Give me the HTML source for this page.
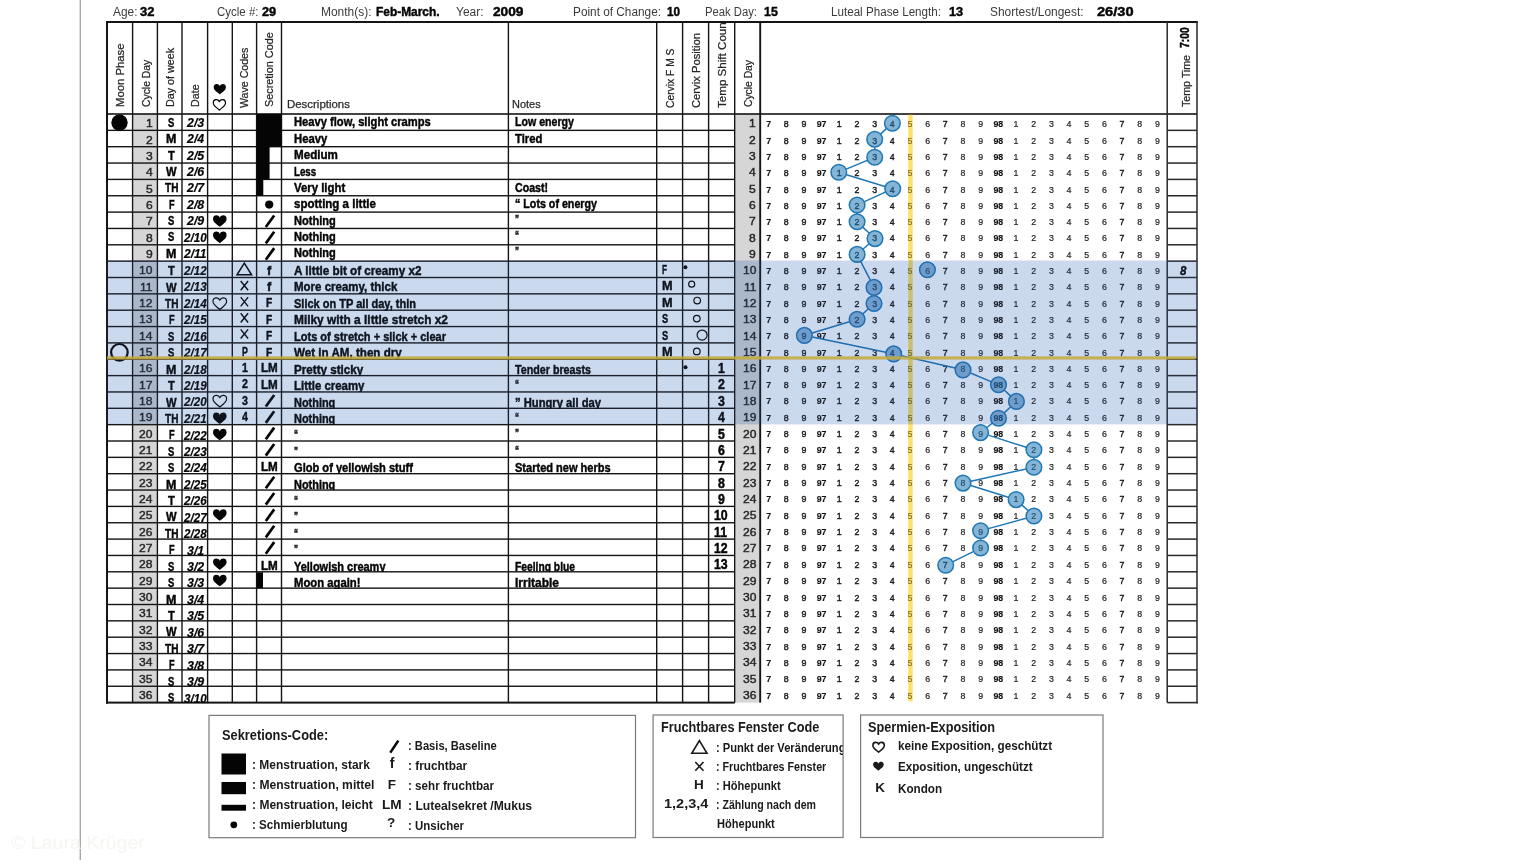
<!DOCTYPE html>
<html><head><meta charset="utf-8"><title>Cycle chart</title>
<style>
html,body{margin:0;padding:0;background:#fff;}
body{width:1536px;height:864px;overflow:hidden;position:relative;font-family:"Liberation Sans",sans-serif;}
.t{position:absolute;white-space:nowrap;transform-origin:0 0;}
.r{position:absolute;}
.lb{-webkit-text-stroke:0.25px #2b2b2b;}
.cd{-webkit-text-stroke:0.4px #262626;}
.hw{-webkit-text-stroke:0.45px #050505;}
.dt{-webkit-text-stroke:0.2px #050505;}
svg{position:absolute;left:0;top:0;overflow:visible;}
.nr{position:absolute;left:759.76px;height:8.8px;line-height:8.8px;font-size:8.8px;white-space:nowrap;color:#222;-webkit-text-stroke:0.2px #222}.nr i{display:inline-block;width:17.68px;text-align:center;font-style:normal}.nr .a{color:#1c1c1c;-webkit-text-stroke:0.4px #1c1c1c}.nr b{color:#111;-webkit-text-stroke:0.15px #111}.nr .y{color:#85731f;-webkit-text-stroke:0.2px #85731f}
</style></head><body><div id="pg" style="position:absolute;left:0;top:0;width:1536px;height:864px;will-change:transform;filter:blur(0.35px);">

<svg width="1536" height="864" viewBox="0 0 1536 864"><rect x="79.60" y="0.00" width="1.40" height="860.00" fill="#a9a9a9" />
<rect x="133.30" y="114.00" width="23.60" height="588.60" fill="#d6d6d6" />
<rect x="735.30" y="114.00" width="24.70" height="588.60" fill="#d6d6d6" />
<rect x="106.00" y="21.00" width="1091.80" height="2.00" fill="#151515" />
<rect x="106.00" y="22.00" width="2.00" height="681.60" fill="#151515" />
<rect x="106.00" y="701.60" width="628.70" height="2.00" fill="#151515" />
<rect x="1196.25" y="22.00" width="1.50" height="681.40" fill="#2a2a2a" />
<rect x="1167.20" y="701.80" width="30.60" height="1.60" fill="#2a2a2a" />
<rect x="107.00" y="113.20" width="1090.00" height="1.60" fill="#151515" />
<rect x="131.90" y="22.00" width="1.40" height="680.60" fill="#151515" />
<rect x="156.70" y="22.00" width="1.40" height="680.60" fill="#151515" />
<rect x="181.30" y="22.00" width="1.40" height="680.60" fill="#151515" />
<rect x="206.90" y="22.00" width="1.40" height="680.60" fill="#151515" />
<rect x="231.60" y="22.00" width="1.40" height="680.60" fill="#151515" />
<rect x="255.90" y="22.00" width="1.40" height="680.60" fill="#151515" />
<rect x="280.80" y="22.00" width="1.40" height="680.60" fill="#151515" />
<rect x="507.70" y="22.00" width="1.40" height="680.60" fill="#151515" />
<rect x="656.00" y="22.00" width="1.40" height="680.60" fill="#151515" />
<rect x="681.90" y="22.00" width="1.40" height="680.60" fill="#151515" />
<rect x="707.90" y="22.00" width="1.40" height="680.60" fill="#151515" />
<rect x="734.00" y="22.00" width="1.40" height="680.60" fill="#151515" />
<rect x="759.25" y="22.00" width="1.90" height="680.60" fill="#151515" />
<rect x="1166.45" y="22.00" width="1.50" height="680.60" fill="#2a2a2a" />
<rect x="107.00" y="129.65" width="627.70" height="1.40" fill="#151515" />
<rect x="1167.20" y="129.60" width="29.80" height="1.50" fill="#2a2a2a" />
<rect x="107.00" y="146.00" width="627.70" height="1.40" fill="#151515" />
<rect x="1167.20" y="145.95" width="29.80" height="1.50" fill="#2a2a2a" />
<rect x="107.00" y="162.35" width="627.70" height="1.40" fill="#151515" />
<rect x="1167.20" y="162.30" width="29.80" height="1.50" fill="#2a2a2a" />
<rect x="107.00" y="178.70" width="627.70" height="1.40" fill="#151515" />
<rect x="1167.20" y="178.65" width="29.80" height="1.50" fill="#2a2a2a" />
<rect x="107.00" y="195.05" width="627.70" height="1.40" fill="#151515" />
<rect x="1167.20" y="195.00" width="29.80" height="1.50" fill="#2a2a2a" />
<rect x="107.00" y="211.40" width="627.70" height="1.40" fill="#151515" />
<rect x="1167.20" y="211.35" width="29.80" height="1.50" fill="#2a2a2a" />
<rect x="107.00" y="227.75" width="627.70" height="1.40" fill="#151515" />
<rect x="1167.20" y="227.70" width="29.80" height="1.50" fill="#2a2a2a" />
<rect x="107.00" y="244.10" width="627.70" height="1.40" fill="#151515" />
<rect x="1167.20" y="244.05" width="29.80" height="1.50" fill="#2a2a2a" />
<rect x="107.00" y="260.45" width="627.70" height="1.40" fill="#151515" />
<rect x="1167.20" y="260.40" width="29.80" height="1.50" fill="#2a2a2a" />
<rect x="107.00" y="276.80" width="627.70" height="1.40" fill="#151515" />
<rect x="1167.20" y="276.75" width="29.80" height="1.50" fill="#2a2a2a" />
<rect x="107.00" y="293.15" width="627.70" height="1.40" fill="#151515" />
<rect x="1167.20" y="293.10" width="29.80" height="1.50" fill="#2a2a2a" />
<rect x="107.00" y="309.50" width="627.70" height="1.40" fill="#151515" />
<rect x="1167.20" y="309.45" width="29.80" height="1.50" fill="#2a2a2a" />
<rect x="107.00" y="325.85" width="627.70" height="1.40" fill="#151515" />
<rect x="1167.20" y="325.80" width="29.80" height="1.50" fill="#2a2a2a" />
<rect x="107.00" y="342.20" width="627.70" height="1.40" fill="#151515" />
<rect x="1167.20" y="342.15" width="29.80" height="1.50" fill="#2a2a2a" />
<rect x="107.00" y="358.55" width="627.70" height="1.40" fill="#151515" />
<rect x="1167.20" y="358.50" width="29.80" height="1.50" fill="#2a2a2a" />
<rect x="107.00" y="374.90" width="627.70" height="1.40" fill="#151515" />
<rect x="1167.20" y="374.85" width="29.80" height="1.50" fill="#2a2a2a" />
<rect x="107.00" y="391.25" width="627.70" height="1.40" fill="#151515" />
<rect x="1167.20" y="391.20" width="29.80" height="1.50" fill="#2a2a2a" />
<rect x="107.00" y="407.60" width="627.70" height="1.40" fill="#151515" />
<rect x="1167.20" y="407.55" width="29.80" height="1.50" fill="#2a2a2a" />
<rect x="107.00" y="423.95" width="627.70" height="1.40" fill="#151515" />
<rect x="1167.20" y="423.90" width="29.80" height="1.50" fill="#2a2a2a" />
<rect x="107.00" y="440.30" width="627.70" height="1.40" fill="#151515" />
<rect x="1167.20" y="440.25" width="29.80" height="1.50" fill="#2a2a2a" />
<rect x="107.00" y="456.65" width="627.70" height="1.40" fill="#151515" />
<rect x="1167.20" y="456.60" width="29.80" height="1.50" fill="#2a2a2a" />
<rect x="107.00" y="473.00" width="627.70" height="1.40" fill="#151515" />
<rect x="1167.20" y="472.95" width="29.80" height="1.50" fill="#2a2a2a" />
<rect x="107.00" y="489.35" width="627.70" height="1.40" fill="#151515" />
<rect x="1167.20" y="489.30" width="29.80" height="1.50" fill="#2a2a2a" />
<rect x="107.00" y="505.70" width="627.70" height="1.40" fill="#151515" />
<rect x="1167.20" y="505.65" width="29.80" height="1.50" fill="#2a2a2a" />
<rect x="107.00" y="522.05" width="627.70" height="1.40" fill="#151515" />
<rect x="1167.20" y="522.00" width="29.80" height="1.50" fill="#2a2a2a" />
<rect x="107.00" y="538.40" width="627.70" height="1.40" fill="#151515" />
<rect x="1167.20" y="538.35" width="29.80" height="1.50" fill="#2a2a2a" />
<rect x="107.00" y="554.75" width="627.70" height="1.40" fill="#151515" />
<rect x="1167.20" y="554.70" width="29.80" height="1.50" fill="#2a2a2a" />
<rect x="107.00" y="571.10" width="627.70" height="1.40" fill="#151515" />
<rect x="1167.20" y="571.05" width="29.80" height="1.50" fill="#2a2a2a" />
<rect x="107.00" y="587.45" width="627.70" height="1.40" fill="#151515" />
<rect x="1167.20" y="587.40" width="29.80" height="1.50" fill="#2a2a2a" />
<rect x="107.00" y="603.80" width="627.70" height="1.40" fill="#151515" />
<rect x="1167.20" y="603.75" width="29.80" height="1.50" fill="#2a2a2a" />
<rect x="107.00" y="620.15" width="627.70" height="1.40" fill="#151515" />
<rect x="1167.20" y="620.10" width="29.80" height="1.50" fill="#2a2a2a" />
<rect x="107.00" y="636.50" width="627.70" height="1.40" fill="#151515" />
<rect x="1167.20" y="636.45" width="29.80" height="1.50" fill="#2a2a2a" />
<rect x="107.00" y="652.85" width="627.70" height="1.40" fill="#151515" />
<rect x="1167.20" y="652.80" width="29.80" height="1.50" fill="#2a2a2a" />
<rect x="107.00" y="669.20" width="627.70" height="1.40" fill="#151515" />
<rect x="1167.20" y="669.15" width="29.80" height="1.50" fill="#2a2a2a" />
<rect x="107.00" y="685.55" width="627.70" height="1.40" fill="#151515" />
<rect x="1167.20" y="685.50" width="29.80" height="1.50" fill="#2a2a2a" />
<circle cx="119.5" cy="122.6" r="8.2" fill="#050505"/>
<circle cx="119.4" cy="352.3" r="8.3" fill="none" stroke="#050505" stroke-width="2.2"/>
<rect x="256.60" y="114.00" width="24.90" height="32.70" fill="#050505" />
<rect x="256.60" y="146.70" width="13.00" height="32.70" fill="#050505" />
<rect x="256.60" y="179.40" width="6.70" height="16.35" fill="#050505" />
<rect x="256.60" y="572.30" width="6.40" height="15.85" fill="#050505" />
<circle cx="269.2" cy="204.6" r="4.1" fill="#050505"/>
<path d="M0,-3.2 C-1.2,-6.4 -6.8,-6.6 -6.8,-1.9 C-6.8,1.6 -2.6,3.6 0,6.0 C2.6,3.6 6.8,1.6 6.8,-1.9 C6.8,-6.6 1.2,-6.4 0,-3.2 Z" transform="translate(219.80,220.80) scale(1.0)" fill="#050505"/>
<path d="M265.80,227.05 L274.20,215.45" stroke="#050505" stroke-width="2.7" stroke-linecap="butt" fill="none"/>
<path d="M0,-3.2 C-1.2,-6.4 -6.8,-6.6 -6.8,-1.9 C-6.8,1.6 -2.6,3.6 0,6.0 C2.6,3.6 6.8,1.6 6.8,-1.9 C6.8,-6.6 1.2,-6.4 0,-3.2 Z" transform="translate(219.80,237.15) scale(1.0)" fill="#050505"/>
<path d="M265.80,243.40 L274.20,231.80" stroke="#050505" stroke-width="2.7" stroke-linecap="butt" fill="none"/>
<path d="M265.80,259.75 L274.20,248.15" stroke="#050505" stroke-width="2.7" stroke-linecap="butt" fill="none"/>
<path d="M244.30,263.15 L251.60,274.85 L237.00,274.85 Z" fill="none" stroke="#050505" stroke-width="1.5" stroke-linejoin="miter"/>
<circle cx="685.40" cy="267.15" r="2.0" fill="#050505"/>
<path d="M240.70,281.00 L248.10,290.20 M248.10,281.00 L240.70,290.20" fill="none" stroke="#050505" stroke-width="1.4"/>
<circle cx="691.70" cy="284.20" r="3.0" fill="none" stroke="#050505" stroke-width="1.2"/>
<path d="M0,-3.2 C-1.2,-6.4 -6.8,-6.6 -6.8,-1.9 C-6.8,1.6 -2.6,3.6 0,6.0 C2.6,3.6 6.8,1.6 6.8,-1.9 C6.8,-6.6 1.2,-6.4 0,-3.2 Z" transform="translate(219.80,303.45) scale(1.0)" fill="none" stroke="#050505" stroke-width="1.20" stroke-linejoin="round"/>
<path d="M240.70,297.12 L248.10,306.32 M248.10,297.12 L240.70,306.32" fill="none" stroke="#050505" stroke-width="1.4"/>
<circle cx="697.20" cy="300.55" r="3.3" fill="none" stroke="#050505" stroke-width="1.2"/>
<path d="M240.70,313.24 L248.10,322.44 M248.10,313.24 L240.70,322.44" fill="none" stroke="#050505" stroke-width="1.4"/>
<circle cx="696.80" cy="318.60" r="3.3" fill="none" stroke="#050505" stroke-width="1.2"/>
<path d="M240.70,329.36 L248.10,338.56 M248.10,329.36 L240.70,338.56" fill="none" stroke="#050505" stroke-width="1.4"/>
<circle cx="702.10" cy="335.05" r="5.0" fill="none" stroke="#050505" stroke-width="1.2"/>
<circle cx="696.80" cy="351.40" r="3.3" fill="none" stroke="#050505" stroke-width="1.2"/>
<circle cx="685.50" cy="367.35" r="2.0" fill="#050505"/>
<path d="M0,-3.2 C-1.2,-6.4 -6.8,-6.6 -6.8,-1.9 C-6.8,1.6 -2.6,3.6 0,6.0 C2.6,3.6 6.8,1.6 6.8,-1.9 C6.8,-6.6 1.2,-6.4 0,-3.2 Z" transform="translate(219.80,400.95) scale(1.0)" fill="none" stroke="#050505" stroke-width="1.20" stroke-linejoin="round"/>
<path d="M265.80,406.55 L274.20,394.95" stroke="#050505" stroke-width="2.7" stroke-linecap="butt" fill="none"/>
<path d="M0,-3.2 C-1.2,-6.4 -6.8,-6.6 -6.8,-1.9 C-6.8,1.6 -2.6,3.6 0,6.0 C2.6,3.6 6.8,1.6 6.8,-1.9 C6.8,-6.6 1.2,-6.4 0,-3.2 Z" transform="translate(219.80,418.10) scale(1.0)" fill="#050505"/>
<path d="M265.80,422.90 L274.20,411.30" stroke="#050505" stroke-width="2.7" stroke-linecap="butt" fill="none"/>
<path d="M0,-3.2 C-1.2,-6.4 -6.8,-6.6 -6.8,-1.9 C-6.8,1.6 -2.6,3.6 0,6.0 C2.6,3.6 6.8,1.6 6.8,-1.9 C6.8,-6.6 1.2,-6.4 0,-3.2 Z" transform="translate(219.80,434.35) scale(1.0)" fill="#050505"/>
<path d="M265.80,439.25 L274.20,427.65" stroke="#050505" stroke-width="2.7" stroke-linecap="butt" fill="none"/>
<path d="M265.80,455.60 L274.20,444.00" stroke="#050505" stroke-width="2.7" stroke-linecap="butt" fill="none"/>
<path d="M265.80,488.30 L274.20,476.70" stroke="#050505" stroke-width="2.7" stroke-linecap="butt" fill="none"/>
<path d="M265.80,504.65 L274.20,493.05" stroke="#050505" stroke-width="2.7" stroke-linecap="butt" fill="none"/>
<path d="M0,-3.2 C-1.2,-6.4 -6.8,-6.6 -6.8,-1.9 C-6.8,1.6 -2.6,3.6 0,6.0 C2.6,3.6 6.8,1.6 6.8,-1.9 C6.8,-6.6 1.2,-6.4 0,-3.2 Z" transform="translate(219.80,514.80) scale(1.0)" fill="#050505"/>
<path d="M265.80,521.00 L274.20,509.40" stroke="#050505" stroke-width="2.7" stroke-linecap="butt" fill="none"/>
<path d="M265.80,537.35 L274.20,525.75" stroke="#050505" stroke-width="2.7" stroke-linecap="butt" fill="none"/>
<path d="M265.80,553.70 L274.20,542.10" stroke="#050505" stroke-width="2.7" stroke-linecap="butt" fill="none"/>
<path d="M0,-3.2 C-1.2,-6.4 -6.8,-6.6 -6.8,-1.9 C-6.8,1.6 -2.6,3.6 0,6.0 C2.6,3.6 6.8,1.6 6.8,-1.9 C6.8,-6.6 1.2,-6.4 0,-3.2 Z" transform="translate(219.80,563.95) scale(1.0)" fill="#050505"/>
<path d="M0,-3.2 C-1.2,-6.4 -6.8,-6.6 -6.8,-1.9 C-6.8,1.6 -2.6,3.6 0,6.0 C2.6,3.6 6.8,1.6 6.8,-1.9 C6.8,-6.6 1.2,-6.4 0,-3.2 Z" transform="translate(219.80,580.30) scale(1.0)" fill="#050505"/>
<path d="M0,-3.2 C-1.2,-6.4 -6.8,-6.6 -6.8,-1.9 C-6.8,1.6 -2.6,3.6 0,6.0 C2.6,3.6 6.8,1.6 6.8,-1.9 C6.8,-6.6 1.2,-6.4 0,-3.2 Z" transform="translate(219.80,89.00) scale(0.9)" fill="#050505"/>
<path d="M0,-3.2 C-1.2,-6.4 -6.8,-6.6 -6.8,-1.9 C-6.8,1.6 -2.6,3.6 0,6.0 C2.6,3.6 6.8,1.6 6.8,-1.9 C6.8,-6.6 1.2,-6.4 0,-3.2 Z" transform="translate(219.40,104.60) scale(0.9)" fill="none" stroke="#050505" stroke-width="1.33" stroke-linejoin="round"/>
<rect x="908.30" y="114.80" width="4.40" height="586.60" fill="#ffe066" />
<rect x="209.00" y="715.40" width="426.50" height="122.30" fill="#fff" stroke="#7a7a7a" stroke-width="1.2"/>
<rect x="221.50" y="753.50" width="24.50" height="21.00" fill="#050505" />
<rect x="221.50" y="782.00" width="24.50" height="12.20" fill="#050505" />
<rect x="221.50" y="804.80" width="24.50" height="5.90" fill="#050505" />
<circle cx="233.8" cy="824.8" r="3.4" fill="#050505"/>
<path d="M390.3,752.6 L398.3,740.6" stroke="#050505" stroke-width="2.6" fill="none"/>
<rect x="653.10" y="715.00" width="190.00" height="122.50" fill="#fff" stroke="#7a7a7a" stroke-width="1.2"/>
<path d="M699.4,740.6 L707.0,753.3 L691.8,753.3 Z" fill="none" stroke="#1a1a1a" stroke-width="1.6"/>
<path d="M695.3,762.0 L703.5,770.8 M703.5,762.0 L695.3,770.8" fill="none" stroke="#1a1a1a" stroke-width="1.6"/>
<rect x="860.60" y="715.00" width="242.40" height="122.50" fill="#fff" stroke="#7a7a7a" stroke-width="1.2"/>
<path d="M0,-3.2 C-1.2,-6.4 -6.8,-6.6 -6.8,-1.9 C-6.8,1.6 -2.6,3.6 0,6.0 C2.6,3.6 6.8,1.6 6.8,-1.9 C6.8,-6.6 1.2,-6.4 0,-3.2 Z" transform="translate(878.60,747.00) scale(0.84)" fill="none" stroke="#1a1a1a" stroke-width="1.90" stroke-linejoin="round"/>
<path d="M0,-3.2 C-1.2,-6.4 -6.8,-6.6 -6.8,-1.9 C-6.8,1.6 -2.6,3.6 0,6.0 C2.6,3.6 6.8,1.6 6.8,-1.9 C6.8,-6.6 1.2,-6.4 0,-3.2 Z" transform="translate(878.40,766.00) scale(0.78)" fill="#1a1a1a"/></svg>
<div class="t" style="left:112.80px;top:5.84px;font-size:12px;line-height:12px;color:#3c3c3c;transform:scale(0.9925,1.0000);">Age:</div>
<div class="t hw" style="left:140.30px;top:5.30px;font-size:13px;line-height:13px;color:#050505;font-weight:700;transform:scale(0.9958,1.0000);">32</div>
<div class="t" style="left:216.90px;top:5.84px;font-size:12px;line-height:12px;color:#3c3c3c;transform:scale(0.9574,1.0000);">Cycle #:</div>
<div class="t hw" style="left:261.70px;top:5.30px;font-size:13px;line-height:13px;color:#050505;font-weight:700;transform:scale(0.9820,1.0000);">29</div>
<div class="t" style="left:320.70px;top:5.84px;font-size:12px;line-height:12px;color:#3c3c3c;transform:scale(0.9965,1.0000);">Month(s):</div>
<div class="t hw" style="left:376.30px;top:5.30px;font-size:13px;line-height:13px;color:#050505;font-weight:700;transform:scale(0.9157,1.0000);">Feb-March.</div>
<div class="t" style="left:456.00px;top:5.84px;font-size:12px;line-height:12px;color:#3c3c3c;transform:scale(0.9971,1.0000);">Year:</div>
<div class="t hw" style="left:492.50px;top:5.30px;font-size:13px;line-height:13px;color:#050505;font-weight:700;transform:scale(1.0546,1.0000);">2009</div>
<div class="t" style="left:573.20px;top:5.84px;font-size:12px;line-height:12px;color:#3c3c3c;transform:scale(0.9844,1.0000);">Point of Change:</div>
<div class="t hw" style="left:667.00px;top:5.30px;font-size:13px;line-height:13px;color:#050505;font-weight:700;transform:scale(0.8990,1.0000);">10</div>
<div class="t" style="left:705.20px;top:5.84px;font-size:12px;line-height:12px;color:#3c3c3c;transform:scale(0.9393,1.0000);">Peak Day:</div>
<div class="t hw" style="left:763.50px;top:5.30px;font-size:13px;line-height:13px;color:#050505;font-weight:700;transform:scale(0.9544,1.0000);">15</div>
<div class="t" style="left:831.40px;top:5.84px;font-size:12px;line-height:12px;color:#3c3c3c;transform:scale(0.9698,1.0000);">Luteal Phase Length:</div>
<div class="t hw" style="left:948.60px;top:5.30px;font-size:13px;line-height:13px;color:#050505;font-weight:700;transform:scale(0.9820,1.0000);">13</div>
<div class="t" style="left:990.40px;top:5.84px;font-size:12px;line-height:12px;color:#3c3c3c;transform:scale(0.9951,1.0000);">Shortest/Longest:</div>
<div class="t hw" style="left:1096.50px;top:5.30px;font-size:13px;line-height:13px;color:#050505;font-weight:700;transform:scale(1.1220,1.0000);">26/30</div>
<div class="t lb" style="left:114.17px;top:107.40px;font-size:11.6px;line-height:11.6px;color:#222;transform:rotate(-90deg) scale(0.9750,1);">Moon Phase</div>
<div class="t lb" style="left:139.87px;top:107.40px;font-size:11.6px;line-height:11.6px;color:#222;transform:rotate(-90deg) scale(0.8949,1);">Cycle Day</div>
<div class="t lb" style="left:163.77px;top:107.40px;font-size:11.6px;line-height:11.6px;color:#222;transform:rotate(-90deg) scale(0.9275,1);">Day of week</div>
<div class="t lb" style="left:189.42px;top:107.40px;font-size:11.6px;line-height:11.6px;color:#222;transform:rotate(-90deg) scale(0.9223,1);">Date</div>
<div class="t lb" style="left:238.07px;top:107.90px;font-size:11.6px;line-height:11.6px;color:#222;transform:rotate(-90deg) scale(0.9140,1);">Wave Codes</div>
<div class="t lb" style="left:262.67px;top:107.40px;font-size:11.6px;line-height:11.6px;color:#222;transform:rotate(-90deg) scale(0.9355,1);">Secretion Code</div>
<div class="t lb" style="left:663.77px;top:107.60px;font-size:11.6px;line-height:11.6px;color:#222;transform:rotate(-90deg) scale(0.8878,1);">Cervix F M S</div>
<div class="t lb" style="left:689.77px;top:107.60px;font-size:11.6px;line-height:11.6px;color:#222;transform:rotate(-90deg) scale(0.9695,1);">Cervix Position</div>
<div class="r" style="left:709px;top:23px;width:26px;height:90px;overflow:hidden"><div style="position:absolute;left:-709px;top:-23px">
<div class="t lb" style="left:715.57px;top:107.60px;font-size:11.6px;line-height:11.6px;color:#222;transform:rotate(-90deg) scale(1.0003,1);">Temp Shift Count</div>
</div></div>
<div class="t lb" style="left:741.77px;top:106.60px;font-size:11.6px;line-height:11.6px;color:#222;transform:rotate(-90deg) scale(0.8892,1);">Cycle Day</div>
<div class="t lb" style="left:1179.77px;top:107.00px;font-size:11.6px;line-height:11.6px;color:#222;transform:rotate(-90deg) scale(0.9167,1);">Temp Time</div>
<div class="t hw" style="left:1178.92px;top:48.40px;font-size:12.5px;line-height:12.5px;color:#050505;transform:rotate(-90deg) scale(0.8234,1);font-weight:700;">7:00</div>
<div class="t lb" style="left:287.40px;top:99.31px;font-size:10.5px;line-height:10.5px;color:#2b2b2b;transform:scale(1.0888,1.0000);">Descriptions</div>
<div class="t lb" style="left:512.00px;top:99.31px;font-size:10.5px;line-height:10.5px;color:#2b2b2b;transform:scale(1.0427,1.0000);">Notes</div>
<div class="t cd" style="left:146.18px;top:118.41px;font-size:10.5px;line-height:10.5px;color:#262626;transform:scale(1.1500,1.0000);">1</div>
<div class="t cd" style="left:749.48px;top:118.31px;font-size:10.5px;line-height:10.5px;color:#262626;transform:scale(1.1500,1.0000);">1</div>
<div class="r" style="left:0;top:114.00px;width:1536px;height:16.75px;overflow:hidden"><div style="position:absolute;left:0;top:-114.00px">
<div class="t hw" style="left:168.15px;top:115.84px;font-size:13.6px;line-height:13.6px;color:#050505;font-weight:700;transform:scale(0.6945,1.0000);">S</div>
<div class="t dt" style="left:186.80px;top:117.98px;font-size:11.9px;line-height:11.9px;color:#050505;font-weight:700;font-style:italic;transform:scale(1.0397,1.0000);">2/3</div>
<div class="t hw" style="left:293.80px;top:115.49px;font-size:13.3px;line-height:13.3px;color:#050505;font-weight:700;transform:scale(0.8400,1.0000);">Heavy flow, slight cramps</div>
<div class="t hw" style="left:514.60px;top:115.49px;font-size:13.3px;line-height:13.3px;color:#050505;font-weight:700;transform:scale(0.7983,1.0000);">Low energy</div>
</div></div>
<div class="t cd" style="left:146.18px;top:134.74px;font-size:10.5px;line-height:10.5px;color:#262626;transform:scale(1.1500,1.0000);">2</div>
<div class="t cd" style="left:749.48px;top:134.64px;font-size:10.5px;line-height:10.5px;color:#262626;transform:scale(1.1500,1.0000);">2</div>
<div class="r" style="left:0;top:130.35px;width:1536px;height:16.75px;overflow:hidden"><div style="position:absolute;left:0;top:-130.35px">
<div class="t hw" style="left:166.10px;top:132.21px;font-size:13.6px;line-height:13.6px;color:#050505;font-weight:700;transform:scale(0.9180,1.0000);">M</div>
<div class="t dt" style="left:186.80px;top:134.35px;font-size:11.9px;line-height:11.9px;color:#050505;font-weight:700;font-style:italic;transform:scale(1.0397,1.0000);">2/4</div>
<div class="t hw" style="left:293.80px;top:131.87px;font-size:13.3px;line-height:13.3px;color:#050505;font-weight:700;transform:scale(0.8497,1.0000);">Heavy</div>
<div class="t hw" style="left:514.60px;top:131.87px;font-size:13.3px;line-height:13.3px;color:#050505;font-weight:700;transform:scale(0.8489,1.0000);">Tired</div>
</div></div>
<div class="t cd" style="left:146.18px;top:151.07px;font-size:10.5px;line-height:10.5px;color:#262626;transform:scale(1.1500,1.0000);">3</div>
<div class="t cd" style="left:749.48px;top:150.97px;font-size:10.5px;line-height:10.5px;color:#262626;transform:scale(1.1500,1.0000);">3</div>
<div class="r" style="left:0;top:146.70px;width:1536px;height:16.75px;overflow:hidden"><div style="position:absolute;left:0;top:-146.70px">
<div class="t hw" style="left:167.90px;top:148.59px;font-size:13.6px;line-height:13.6px;color:#050505;font-weight:700;transform:scale(0.8185,1.0000);">T</div>
<div class="t dt" style="left:186.80px;top:150.73px;font-size:11.9px;line-height:11.9px;color:#050505;font-weight:700;font-style:italic;transform:scale(1.0397,1.0000);">2/5</div>
<div class="t hw" style="left:293.80px;top:148.24px;font-size:13.3px;line-height:13.3px;color:#050505;font-weight:700;transform:scale(0.8737,1.0000);">Medium</div>
</div></div>
<div class="t cd" style="left:146.18px;top:167.40px;font-size:10.5px;line-height:10.5px;color:#262626;transform:scale(1.1500,1.0000);">4</div>
<div class="t cd" style="left:749.48px;top:167.30px;font-size:10.5px;line-height:10.5px;color:#262626;transform:scale(1.1500,1.0000);">4</div>
<div class="r" style="left:0;top:163.05px;width:1536px;height:16.75px;overflow:hidden"><div style="position:absolute;left:0;top:-163.05px">
<div class="t hw" style="left:166.00px;top:164.96px;font-size:13.6px;line-height:13.6px;color:#050505;font-weight:700;transform:scale(0.8258,1.0000);">W</div>
<div class="t dt" style="left:186.80px;top:167.10px;font-size:11.9px;line-height:11.9px;color:#050505;font-weight:700;font-style:italic;transform:scale(1.0397,1.0000);">2/6</div>
<div class="t hw" style="left:293.80px;top:164.62px;font-size:13.3px;line-height:13.3px;color:#050505;font-weight:700;transform:scale(0.7323,1.0000);">Less</div>
</div></div>
<div class="t cd" style="left:146.18px;top:183.73px;font-size:10.5px;line-height:10.5px;color:#262626;transform:scale(1.1500,1.0000);">5</div>
<div class="t cd" style="left:749.48px;top:183.63px;font-size:10.5px;line-height:10.5px;color:#262626;transform:scale(1.1500,1.0000);">5</div>
<div class="r" style="left:0;top:179.40px;width:1536px;height:16.75px;overflow:hidden"><div style="position:absolute;left:0;top:-179.40px">
<div class="t hw" style="left:164.60px;top:181.34px;font-size:13.6px;line-height:13.6px;color:#050505;font-weight:700;transform:scale(0.7391,1.0000);">TH</div>
<div class="t dt" style="left:186.80px;top:183.48px;font-size:11.9px;line-height:11.9px;color:#050505;font-weight:700;font-style:italic;transform:scale(1.0397,1.0000);">2/7</div>
<div class="t hw" style="left:293.80px;top:180.99px;font-size:13.3px;line-height:13.3px;color:#050505;font-weight:700;transform:scale(0.8552,1.0000);">Very light</div>
<div class="t hw" style="left:514.60px;top:180.99px;font-size:13.3px;line-height:13.3px;color:#050505;font-weight:700;transform:scale(0.7975,1.0000);">Coast!</div>
</div></div>
<div class="t cd" style="left:146.18px;top:200.06px;font-size:10.5px;line-height:10.5px;color:#262626;transform:scale(1.1500,1.0000);">6</div>
<div class="t cd" style="left:749.48px;top:199.96px;font-size:10.5px;line-height:10.5px;color:#262626;transform:scale(1.1500,1.0000);">6</div>
<div class="r" style="left:0;top:195.75px;width:1536px;height:16.75px;overflow:hidden"><div style="position:absolute;left:0;top:-195.75px">
<div class="t hw" style="left:168.50px;top:197.71px;font-size:13.6px;line-height:13.6px;color:#050505;font-weight:700;transform:scale(0.6741,1.0000);">F</div>
<div class="t dt" style="left:186.80px;top:199.85px;font-size:11.9px;line-height:11.9px;color:#050505;font-weight:700;font-style:italic;transform:scale(1.0397,1.0000);">2/8</div>
<div class="t hw" style="left:293.80px;top:197.37px;font-size:13.3px;line-height:13.3px;color:#050505;font-weight:700;transform:scale(0.8660,1.0000);">spotting a little</div>
<div class="t hw" style="left:514.60px;top:197.37px;font-size:13.3px;line-height:13.3px;color:#050505;font-weight:700;transform:scale(0.8041,1.0000);">“ Lots of energy</div>
</div></div>
<div class="t cd" style="left:146.18px;top:216.39px;font-size:10.5px;line-height:10.5px;color:#262626;transform:scale(1.1500,1.0000);">7</div>
<div class="t cd" style="left:749.48px;top:216.29px;font-size:10.5px;line-height:10.5px;color:#262626;transform:scale(1.1500,1.0000);">7</div>
<div class="r" style="left:0;top:212.10px;width:1536px;height:16.75px;overflow:hidden"><div style="position:absolute;left:0;top:-212.10px">
<div class="t hw" style="left:168.15px;top:214.09px;font-size:13.6px;line-height:13.6px;color:#050505;font-weight:700;transform:scale(0.6945,1.0000);">S</div>
<div class="t dt" style="left:186.80px;top:216.23px;font-size:11.9px;line-height:11.9px;color:#050505;font-weight:700;font-style:italic;transform:scale(1.0397,1.0000);">2/9</div>
<div class="t hw" style="left:293.80px;top:213.74px;font-size:13.3px;line-height:13.3px;color:#050505;font-weight:700;transform:scale(0.8302,1.0000);">Nothing</div>
<div class="t hw" style="left:514.60px;top:213.57px;font-size:11.5px;line-height:11.5px;color:#050505;font-weight:700;transform:scale(0.7000,1.0000);">”</div>
</div></div>
<div class="t cd" style="left:146.18px;top:232.72px;font-size:10.5px;line-height:10.5px;color:#262626;transform:scale(1.1500,1.0000);">8</div>
<div class="t cd" style="left:749.48px;top:232.62px;font-size:10.5px;line-height:10.5px;color:#262626;transform:scale(1.1500,1.0000);">8</div>
<div class="r" style="left:0;top:228.45px;width:1536px;height:16.75px;overflow:hidden"><div style="position:absolute;left:0;top:-228.45px">
<div class="t hw" style="left:168.15px;top:230.46px;font-size:13.6px;line-height:13.6px;color:#050505;font-weight:700;transform:scale(0.6945,1.0000);">S</div>
<div class="t dt" style="left:183.70px;top:232.60px;font-size:11.9px;line-height:11.9px;color:#050505;font-weight:700;font-style:italic;transform:scale(0.9758,1.0000);">2/10</div>
<div class="t hw" style="left:293.80px;top:230.12px;font-size:13.3px;line-height:13.3px;color:#050505;font-weight:700;transform:scale(0.8302,1.0000);">Nothing</div>
<div class="t hw" style="left:514.60px;top:229.94px;font-size:11.5px;line-height:11.5px;color:#050505;font-weight:700;transform:scale(0.7000,1.0000);">“</div>
</div></div>
<div class="t cd" style="left:146.18px;top:249.05px;font-size:10.5px;line-height:10.5px;color:#262626;transform:scale(1.1500,1.0000);">9</div>
<div class="t cd" style="left:749.48px;top:248.95px;font-size:10.5px;line-height:10.5px;color:#262626;transform:scale(1.1500,1.0000);">9</div>
<div class="r" style="left:0;top:244.80px;width:1536px;height:16.75px;overflow:hidden"><div style="position:absolute;left:0;top:-244.80px">
<div class="t hw" style="left:166.10px;top:246.84px;font-size:13.6px;line-height:13.6px;color:#050505;font-weight:700;transform:scale(0.9180,1.0000);">M</div>
<div class="t dt" style="left:183.70px;top:248.98px;font-size:11.9px;line-height:11.9px;color:#050505;font-weight:700;font-style:italic;transform:scale(1.0145,1.0000);">2/11</div>
<div class="t hw" style="left:293.80px;top:246.49px;font-size:13.3px;line-height:13.3px;color:#050505;font-weight:700;transform:scale(0.8302,1.0000);">Nothing</div>
<div class="t hw" style="left:514.60px;top:246.32px;font-size:11.5px;line-height:11.5px;color:#050505;font-weight:700;transform:scale(0.7000,1.0000);">”</div>
</div></div>
<div class="t cd" style="left:139.47px;top:265.38px;font-size:10.5px;line-height:10.5px;color:#262626;transform:scale(1.1500,1.0000);">10</div>
<div class="t cd" style="left:742.77px;top:265.28px;font-size:10.5px;line-height:10.5px;color:#262626;transform:scale(1.1500,1.0000);">10</div>
<div class="r" style="left:0;top:261.15px;width:1536px;height:16.75px;overflow:hidden"><div style="position:absolute;left:0;top:-261.15px">
<div class="t hw" style="left:167.90px;top:264.09px;font-size:13.6px;line-height:13.6px;color:#050505;font-weight:700;transform:scale(0.8185,1.0000);">T</div>
<div class="t dt" style="left:183.70px;top:265.93px;font-size:11.9px;line-height:11.9px;color:#050505;font-weight:700;font-style:italic;transform:scale(0.9758,1.0000);">2/12</div>
<div class="t hw" style="left:267.30px;top:263.54px;font-size:13.3px;line-height:13.3px;color:#050505;font-weight:700;transform:scale(0.9483,1.0000);">f</div>
<div class="t hw" style="left:293.80px;top:264.04px;font-size:13.3px;line-height:13.3px;color:#050505;font-weight:700;transform:scale(0.8786,1.0000);">A little bit of creamy x2</div>
<div class="t hw" style="left:661.80px;top:263.04px;font-size:13.3px;line-height:13.3px;color:#050505;font-weight:700;transform:scale(0.6154,1.0000);">F</div>
</div></div>
<div class="t cd" style="left:140.37px;top:281.71px;font-size:10.5px;line-height:10.5px;color:#262626;transform:scale(1.1500,1.0000);">11</div>
<div class="t cd" style="left:743.67px;top:281.61px;font-size:10.5px;line-height:10.5px;color:#262626;transform:scale(1.1500,1.0000);">11</div>
<div class="r" style="left:0;top:277.50px;width:1536px;height:16.75px;overflow:hidden"><div style="position:absolute;left:0;top:-277.50px">
<div class="t hw" style="left:166.00px;top:280.53px;font-size:13.6px;line-height:13.6px;color:#050505;font-weight:700;transform:scale(0.8258,1.0000);">W</div>
<div class="t dt" style="left:183.70px;top:282.37px;font-size:11.9px;line-height:11.9px;color:#050505;font-weight:700;font-style:italic;transform:scale(0.9758,1.0000);">2/13</div>
<div class="t hw" style="left:267.30px;top:279.98px;font-size:13.3px;line-height:13.3px;color:#050505;font-weight:700;transform:scale(0.9483,1.0000);">f</div>
<div class="t hw" style="left:293.80px;top:280.48px;font-size:13.3px;line-height:13.3px;color:#050505;font-weight:700;transform:scale(0.8644,1.0000);">More creamy, thick</div>
<div class="t hw" style="left:661.80px;top:279.48px;font-size:13.3px;line-height:13.3px;color:#050505;font-weight:700;transform:scale(0.9568,1.0000);">M</div>
</div></div>
<div class="t cd" style="left:139.47px;top:298.04px;font-size:10.5px;line-height:10.5px;color:#262626;transform:scale(1.1500,1.0000);">12</div>
<div class="t cd" style="left:742.77px;top:297.94px;font-size:10.5px;line-height:10.5px;color:#262626;transform:scale(1.1500,1.0000);">12</div>
<div class="r" style="left:0;top:293.85px;width:1536px;height:16.75px;overflow:hidden"><div style="position:absolute;left:0;top:-293.85px">
<div class="t hw" style="left:164.60px;top:296.97px;font-size:13.6px;line-height:13.6px;color:#050505;font-weight:700;transform:scale(0.7391,1.0000);">TH</div>
<div class="t dt" style="left:183.70px;top:298.81px;font-size:11.9px;line-height:11.9px;color:#050505;font-weight:700;font-style:italic;transform:scale(0.9758,1.0000);">2/14</div>
<div class="t hw" style="left:266.30px;top:296.42px;font-size:13.3px;line-height:13.3px;color:#050505;font-weight:700;transform:scale(0.7632,1.0000);">F</div>
<div class="t hw" style="left:293.80px;top:296.92px;font-size:13.3px;line-height:13.3px;color:#050505;font-weight:700;transform:scale(0.8281,1.0000);">Slick on TP all day, thin</div>
<div class="t hw" style="left:661.80px;top:295.92px;font-size:13.3px;line-height:13.3px;color:#050505;font-weight:700;transform:scale(0.9568,1.0000);">M</div>
</div></div>
<div class="t cd" style="left:139.47px;top:314.37px;font-size:10.5px;line-height:10.5px;color:#262626;transform:scale(1.1500,1.0000);">13</div>
<div class="t cd" style="left:742.77px;top:314.27px;font-size:10.5px;line-height:10.5px;color:#262626;transform:scale(1.1500,1.0000);">13</div>
<div class="r" style="left:0;top:310.20px;width:1536px;height:16.75px;overflow:hidden"><div style="position:absolute;left:0;top:-310.20px">
<div class="t hw" style="left:168.50px;top:313.41px;font-size:13.6px;line-height:13.6px;color:#050505;font-weight:700;transform:scale(0.6741,1.0000);">F</div>
<div class="t dt" style="left:183.70px;top:315.25px;font-size:11.9px;line-height:11.9px;color:#050505;font-weight:700;font-style:italic;transform:scale(0.9758,1.0000);">2/15</div>
<div class="t hw" style="left:266.30px;top:312.86px;font-size:13.3px;line-height:13.3px;color:#050505;font-weight:700;transform:scale(0.7632,1.0000);">F</div>
<div class="t hw" style="left:293.80px;top:313.36px;font-size:13.3px;line-height:13.3px;color:#050505;font-weight:700;transform:scale(0.8942,1.0000);">Milky with a little stretch x2</div>
<div class="t hw" style="left:661.80px;top:312.36px;font-size:13.3px;line-height:13.3px;color:#050505;font-weight:700;transform:scale(0.6989,1.0000);">S</div>
</div></div>
<div class="t cd" style="left:139.47px;top:330.70px;font-size:10.5px;line-height:10.5px;color:#262626;transform:scale(1.1500,1.0000);">14</div>
<div class="t cd" style="left:742.77px;top:330.60px;font-size:10.5px;line-height:10.5px;color:#262626;transform:scale(1.1500,1.0000);">14</div>
<div class="r" style="left:0;top:326.55px;width:1536px;height:16.75px;overflow:hidden"><div style="position:absolute;left:0;top:-326.55px">
<div class="t hw" style="left:168.15px;top:329.85px;font-size:13.6px;line-height:13.6px;color:#050505;font-weight:700;transform:scale(0.6945,1.0000);">S</div>
<div class="t dt" style="left:183.70px;top:331.69px;font-size:11.9px;line-height:11.9px;color:#050505;font-weight:700;font-style:italic;transform:scale(0.9758,1.0000);">2/16</div>
<div class="t hw" style="left:266.30px;top:329.30px;font-size:13.3px;line-height:13.3px;color:#050505;font-weight:700;transform:scale(0.7632,1.0000);">F</div>
<div class="t hw" style="left:293.80px;top:329.80px;font-size:13.3px;line-height:13.3px;color:#050505;font-weight:700;transform:scale(0.8291,1.0000);">Lots of stretch + slick + clear</div>
<div class="t hw" style="left:661.80px;top:328.80px;font-size:13.3px;line-height:13.3px;color:#050505;font-weight:700;transform:scale(0.6989,1.0000);">S</div>
</div></div>
<div class="t cd" style="left:139.47px;top:347.03px;font-size:10.5px;line-height:10.5px;color:#262626;transform:scale(1.1500,1.0000);">15</div>
<div class="t cd" style="left:742.77px;top:346.93px;font-size:10.5px;line-height:10.5px;color:#262626;transform:scale(1.1500,1.0000);">15</div>
<div class="r" style="left:0;top:342.90px;width:1536px;height:16.75px;overflow:hidden"><div style="position:absolute;left:0;top:-342.90px">
<div class="t hw" style="left:168.15px;top:346.29px;font-size:13.6px;line-height:13.6px;color:#050505;font-weight:700;transform:scale(0.6945,1.0000);">S</div>
<div class="t dt" style="left:183.70px;top:348.13px;font-size:11.9px;line-height:11.9px;color:#050505;font-weight:700;font-style:italic;transform:scale(0.9758,1.0000);">2/17</div>
<div class="t hw" style="left:241.67px;top:344.54px;font-size:13.3px;line-height:13.3px;color:#050505;font-weight:700;transform:scale(0.6600,1.0000);">P</div>
<div class="t hw" style="left:266.30px;top:345.74px;font-size:13.3px;line-height:13.3px;color:#050505;font-weight:700;transform:scale(0.7632,1.0000);">F</div>
<div class="t hw" style="left:293.80px;top:346.24px;font-size:13.3px;line-height:13.3px;color:#050505;font-weight:700;transform:scale(0.8736,1.0000);">Wet in AM, then dry</div>
<div class="t hw" style="left:661.80px;top:345.24px;font-size:13.3px;line-height:13.3px;color:#050505;font-weight:700;transform:scale(0.9568,1.0000);">M</div>
</div></div>
<div class="t cd" style="left:139.47px;top:363.36px;font-size:10.5px;line-height:10.5px;color:#262626;transform:scale(1.1500,1.0000);">16</div>
<div class="t cd" style="left:742.77px;top:363.26px;font-size:10.5px;line-height:10.5px;color:#262626;transform:scale(1.1500,1.0000);">16</div>
<div class="r" style="left:0;top:359.25px;width:1536px;height:16.75px;overflow:hidden"><div style="position:absolute;left:0;top:-359.25px">
<div class="t hw" style="left:166.10px;top:362.73px;font-size:13.6px;line-height:13.6px;color:#050505;font-weight:700;transform:scale(0.9180,1.0000);">M</div>
<div class="t dt" style="left:183.70px;top:364.57px;font-size:11.9px;line-height:11.9px;color:#050505;font-weight:700;font-style:italic;transform:scale(0.9758,1.0000);">2/18</div>
<div class="t hw" style="left:241.64px;top:360.98px;font-size:13.3px;line-height:13.3px;color:#050505;font-weight:700;transform:scale(0.8000,1.0000);">1</div>
<div class="t hw" style="left:261.00px;top:361.38px;font-size:13.3px;line-height:13.3px;color:#050505;font-weight:700;transform:scale(0.8748,1.0000);">LM</div>
<div class="t hw" style="left:293.80px;top:362.68px;font-size:13.3px;line-height:13.3px;color:#050505;font-weight:700;transform:scale(0.8748,1.0000);">Pretty sticky</div>
<div class="t hw" style="left:514.60px;top:362.68px;font-size:13.3px;line-height:13.3px;color:#050505;font-weight:700;transform:scale(0.8054,1.0000);">Tender breasts</div>
<div class="t hw" style="left:717.57px;top:361.09px;font-size:14px;line-height:14px;color:#050505;font-weight:700;transform:scale(0.8800,1.0000);">1</div>
</div></div>
<div class="t cd" style="left:139.47px;top:379.69px;font-size:10.5px;line-height:10.5px;color:#262626;transform:scale(1.1500,1.0000);">17</div>
<div class="t cd" style="left:742.77px;top:379.59px;font-size:10.5px;line-height:10.5px;color:#262626;transform:scale(1.1500,1.0000);">17</div>
<div class="r" style="left:0;top:375.60px;width:1536px;height:16.75px;overflow:hidden"><div style="position:absolute;left:0;top:-375.60px">
<div class="t hw" style="left:167.90px;top:379.17px;font-size:13.6px;line-height:13.6px;color:#050505;font-weight:700;transform:scale(0.8185,1.0000);">T</div>
<div class="t dt" style="left:183.70px;top:381.01px;font-size:11.9px;line-height:11.9px;color:#050505;font-weight:700;font-style:italic;transform:scale(0.9758,1.0000);">2/19</div>
<div class="t hw" style="left:241.64px;top:377.42px;font-size:13.3px;line-height:13.3px;color:#050505;font-weight:700;transform:scale(0.8000,1.0000);">2</div>
<div class="t hw" style="left:261.00px;top:377.82px;font-size:13.3px;line-height:13.3px;color:#050505;font-weight:700;transform:scale(0.8748,1.0000);">LM</div>
<div class="t hw" style="left:293.80px;top:379.12px;font-size:13.3px;line-height:13.3px;color:#050505;font-weight:700;transform:scale(0.8580,1.0000);">Little creamy</div>
<div class="t hw" style="left:514.60px;top:378.95px;font-size:11.5px;line-height:11.5px;color:#050505;font-weight:700;transform:scale(0.7000,1.0000);">“</div>
<div class="t hw" style="left:717.57px;top:377.45px;font-size:14px;line-height:14px;color:#050505;font-weight:700;transform:scale(0.8800,1.0000);">2</div>
</div></div>
<div class="t cd" style="left:139.47px;top:396.02px;font-size:10.5px;line-height:10.5px;color:#262626;transform:scale(1.1500,1.0000);">18</div>
<div class="t cd" style="left:742.77px;top:395.92px;font-size:10.5px;line-height:10.5px;color:#262626;transform:scale(1.1500,1.0000);">18</div>
<div class="r" style="left:0;top:391.95px;width:1536px;height:16.75px;overflow:hidden"><div style="position:absolute;left:0;top:-391.95px">
<div class="t hw" style="left:166.00px;top:395.61px;font-size:13.6px;line-height:13.6px;color:#050505;font-weight:700;transform:scale(0.8258,1.0000);">W</div>
<div class="t dt" style="left:183.70px;top:397.45px;font-size:11.9px;line-height:11.9px;color:#050505;font-weight:700;font-style:italic;transform:scale(0.9758,1.0000);">2/20</div>
<div class="t hw" style="left:241.64px;top:393.86px;font-size:13.3px;line-height:13.3px;color:#050505;font-weight:700;transform:scale(0.8000,1.0000);">3</div>
<div class="t hw" style="left:293.80px;top:395.56px;font-size:13.3px;line-height:13.3px;color:#050505;font-weight:700;transform:scale(0.8223,1.0000);">Nothing</div>
<div class="t hw" style="left:514.60px;top:395.56px;font-size:13.3px;line-height:13.3px;color:#050505;font-weight:700;transform:scale(0.8432,1.0000);">” Hungry all day</div>
<div class="t hw" style="left:717.57px;top:393.81px;font-size:14px;line-height:14px;color:#050505;font-weight:700;transform:scale(0.8800,1.0000);">3</div>
</div></div>
<div class="t cd" style="left:139.47px;top:412.35px;font-size:10.5px;line-height:10.5px;color:#262626;transform:scale(1.1500,1.0000);">19</div>
<div class="t cd" style="left:742.77px;top:412.25px;font-size:10.5px;line-height:10.5px;color:#262626;transform:scale(1.1500,1.0000);">19</div>
<div class="r" style="left:0;top:408.30px;width:1536px;height:16.75px;overflow:hidden"><div style="position:absolute;left:0;top:-408.30px">
<div class="t hw" style="left:164.60px;top:412.05px;font-size:13.6px;line-height:13.6px;color:#050505;font-weight:700;transform:scale(0.7391,1.0000);">TH</div>
<div class="t dt" style="left:183.70px;top:413.89px;font-size:11.9px;line-height:11.9px;color:#050505;font-weight:700;font-style:italic;transform:scale(0.9758,1.0000);">2/21</div>
<div class="t hw" style="left:241.64px;top:410.30px;font-size:13.3px;line-height:13.3px;color:#050505;font-weight:700;transform:scale(0.8000,1.0000);">4</div>
<div class="t hw" style="left:293.80px;top:412.00px;font-size:13.3px;line-height:13.3px;color:#050505;font-weight:700;transform:scale(0.8223,1.0000);">Nothing</div>
<div class="t hw" style="left:514.60px;top:411.83px;font-size:11.5px;line-height:11.5px;color:#050505;font-weight:700;transform:scale(0.7000,1.0000);">“</div>
<div class="t hw" style="left:717.57px;top:410.17px;font-size:14px;line-height:14px;color:#050505;font-weight:700;transform:scale(0.8800,1.0000);">4</div>
</div></div>
<div class="t cd" style="left:139.47px;top:428.68px;font-size:10.5px;line-height:10.5px;color:#262626;transform:scale(1.1500,1.0000);">20</div>
<div class="t cd" style="left:742.77px;top:428.58px;font-size:10.5px;line-height:10.5px;color:#262626;transform:scale(1.1500,1.0000);">20</div>
<div class="r" style="left:0;top:424.65px;width:1536px;height:16.75px;overflow:hidden"><div style="position:absolute;left:0;top:-424.65px">
<div class="t hw" style="left:168.50px;top:428.19px;font-size:13.6px;line-height:13.6px;color:#050505;font-weight:700;transform:scale(0.6741,1.0000);">F</div>
<div class="t dt" style="left:183.70px;top:430.53px;font-size:11.9px;line-height:11.9px;color:#050505;font-weight:700;font-style:italic;transform:scale(0.9758,1.0000);">2/22</div>
<div class="t hw" style="left:293.80px;top:429.17px;font-size:11.5px;line-height:11.5px;color:#050505;font-weight:700;transform:scale(0.7000,1.0000);">“</div>
<div class="t hw" style="left:514.60px;top:428.27px;font-size:11.5px;line-height:11.5px;color:#050505;font-weight:700;transform:scale(0.7000,1.0000);">”</div>
<div class="t hw" style="left:717.57px;top:426.53px;font-size:14px;line-height:14px;color:#050505;font-weight:700;transform:scale(0.8800,1.0000);">5</div>
</div></div>
<div class="t cd" style="left:139.47px;top:445.01px;font-size:10.5px;line-height:10.5px;color:#262626;transform:scale(1.1500,1.0000);">21</div>
<div class="t cd" style="left:742.77px;top:444.91px;font-size:10.5px;line-height:10.5px;color:#262626;transform:scale(1.1500,1.0000);">21</div>
<div class="r" style="left:0;top:441.00px;width:1536px;height:16.75px;overflow:hidden"><div style="position:absolute;left:0;top:-441.00px">
<div class="t hw" style="left:168.15px;top:444.63px;font-size:13.6px;line-height:13.6px;color:#050505;font-weight:700;transform:scale(0.6945,1.0000);">S</div>
<div class="t dt" style="left:183.70px;top:446.97px;font-size:11.9px;line-height:11.9px;color:#050505;font-weight:700;font-style:italic;transform:scale(0.9758,1.0000);">2/23</div>
<div class="t hw" style="left:293.80px;top:445.61px;font-size:11.5px;line-height:11.5px;color:#050505;font-weight:700;transform:scale(0.7000,1.0000);">”</div>
<div class="t hw" style="left:514.60px;top:444.71px;font-size:11.5px;line-height:11.5px;color:#050505;font-weight:700;transform:scale(0.7000,1.0000);">“</div>
<div class="t hw" style="left:717.57px;top:442.89px;font-size:14px;line-height:14px;color:#050505;font-weight:700;transform:scale(0.8800,1.0000);">6</div>
</div></div>
<div class="t cd" style="left:139.47px;top:461.34px;font-size:10.5px;line-height:10.5px;color:#262626;transform:scale(1.1500,1.0000);">22</div>
<div class="t cd" style="left:742.77px;top:461.24px;font-size:10.5px;line-height:10.5px;color:#262626;transform:scale(1.1500,1.0000);">22</div>
<div class="r" style="left:0;top:457.35px;width:1536px;height:16.75px;overflow:hidden"><div style="position:absolute;left:0;top:-457.35px">
<div class="t hw" style="left:168.15px;top:461.07px;font-size:13.6px;line-height:13.6px;color:#050505;font-weight:700;transform:scale(0.6945,1.0000);">S</div>
<div class="t dt" style="left:183.70px;top:463.41px;font-size:11.9px;line-height:11.9px;color:#050505;font-weight:700;font-style:italic;transform:scale(0.9758,1.0000);">2/24</div>
<div class="t hw" style="left:261.00px;top:460.02px;font-size:13.3px;line-height:13.3px;color:#050505;font-weight:700;transform:scale(0.8748,1.0000);">LM</div>
<div class="t hw" style="left:293.80px;top:461.32px;font-size:13.3px;line-height:13.3px;color:#050505;font-weight:700;transform:scale(0.8345,1.0000);">Glob of yellowish stuff</div>
<div class="t hw" style="left:514.60px;top:461.32px;font-size:13.3px;line-height:13.3px;color:#050505;font-weight:700;transform:scale(0.8300,1.0000);">Started new herbs</div>
<div class="t hw" style="left:717.57px;top:459.25px;font-size:14px;line-height:14px;color:#050505;font-weight:700;transform:scale(0.8800,1.0000);">7</div>
</div></div>
<div class="t cd" style="left:139.47px;top:477.67px;font-size:10.5px;line-height:10.5px;color:#262626;transform:scale(1.1500,1.0000);">23</div>
<div class="t cd" style="left:742.77px;top:477.57px;font-size:10.5px;line-height:10.5px;color:#262626;transform:scale(1.1500,1.0000);">23</div>
<div class="r" style="left:0;top:473.70px;width:1536px;height:16.75px;overflow:hidden"><div style="position:absolute;left:0;top:-473.70px">
<div class="t hw" style="left:166.10px;top:477.51px;font-size:13.6px;line-height:13.6px;color:#050505;font-weight:700;transform:scale(0.9180,1.0000);">M</div>
<div class="t dt" style="left:183.70px;top:479.85px;font-size:11.9px;line-height:11.9px;color:#050505;font-weight:700;font-style:italic;transform:scale(0.9758,1.0000);">2/25</div>
<div class="t hw" style="left:293.80px;top:477.76px;font-size:13.3px;line-height:13.3px;color:#050505;font-weight:700;transform:scale(0.8223,1.0000);">Nothing</div>
<div class="t hw" style="left:717.57px;top:475.61px;font-size:14px;line-height:14px;color:#050505;font-weight:700;transform:scale(0.8800,1.0000);">8</div>
</div></div>
<div class="t cd" style="left:139.47px;top:494.00px;font-size:10.5px;line-height:10.5px;color:#262626;transform:scale(1.1500,1.0000);">24</div>
<div class="t cd" style="left:742.77px;top:493.90px;font-size:10.5px;line-height:10.5px;color:#262626;transform:scale(1.1500,1.0000);">24</div>
<div class="r" style="left:0;top:490.05px;width:1536px;height:16.75px;overflow:hidden"><div style="position:absolute;left:0;top:-490.05px">
<div class="t hw" style="left:167.90px;top:493.95px;font-size:13.6px;line-height:13.6px;color:#050505;font-weight:700;transform:scale(0.8185,1.0000);">T</div>
<div class="t dt" style="left:183.70px;top:496.29px;font-size:11.9px;line-height:11.9px;color:#050505;font-weight:700;font-style:italic;transform:scale(0.9758,1.0000);">2/26</div>
<div class="t hw" style="left:293.80px;top:494.93px;font-size:11.5px;line-height:11.5px;color:#050505;font-weight:700;transform:scale(0.7000,1.0000);">“</div>
<div class="t hw" style="left:717.57px;top:491.97px;font-size:14px;line-height:14px;color:#050505;font-weight:700;transform:scale(0.8800,1.0000);">9</div>
</div></div>
<div class="t cd" style="left:139.47px;top:510.33px;font-size:10.5px;line-height:10.5px;color:#262626;transform:scale(1.1500,1.0000);">25</div>
<div class="t cd" style="left:742.77px;top:510.23px;font-size:10.5px;line-height:10.5px;color:#262626;transform:scale(1.1500,1.0000);">25</div>
<div class="r" style="left:0;top:506.40px;width:1536px;height:16.75px;overflow:hidden"><div style="position:absolute;left:0;top:-506.40px">
<div class="t hw" style="left:166.00px;top:510.39px;font-size:13.6px;line-height:13.6px;color:#050505;font-weight:700;transform:scale(0.8258,1.0000);">W</div>
<div class="t dt" style="left:183.70px;top:512.73px;font-size:11.9px;line-height:11.9px;color:#050505;font-weight:700;font-style:italic;transform:scale(0.9758,1.0000);">2/27</div>
<div class="t hw" style="left:293.80px;top:511.37px;font-size:11.5px;line-height:11.5px;color:#050505;font-weight:700;transform:scale(0.7000,1.0000);">”</div>
<div class="t hw" style="left:714.15px;top:508.33px;font-size:14px;line-height:14px;color:#050505;font-weight:700;transform:scale(0.8800,1.0000);">10</div>
</div></div>
<div class="t cd" style="left:139.47px;top:526.66px;font-size:10.5px;line-height:10.5px;color:#262626;transform:scale(1.1500,1.0000);">26</div>
<div class="t cd" style="left:742.77px;top:526.56px;font-size:10.5px;line-height:10.5px;color:#262626;transform:scale(1.1500,1.0000);">26</div>
<div class="r" style="left:0;top:522.75px;width:1536px;height:16.75px;overflow:hidden"><div style="position:absolute;left:0;top:-522.75px">
<div class="t hw" style="left:164.60px;top:526.83px;font-size:13.6px;line-height:13.6px;color:#050505;font-weight:700;transform:scale(0.7391,1.0000);">TH</div>
<div class="t dt" style="left:183.70px;top:529.17px;font-size:11.9px;line-height:11.9px;color:#050505;font-weight:700;font-style:italic;transform:scale(0.9758,1.0000);">2/28</div>
<div class="t hw" style="left:293.80px;top:527.81px;font-size:11.5px;line-height:11.5px;color:#050505;font-weight:700;transform:scale(0.7000,1.0000);">“</div>
<div class="t hw" style="left:714.49px;top:524.69px;font-size:14px;line-height:14px;color:#050505;font-weight:700;transform:scale(0.8800,1.0000);">11</div>
</div></div>
<div class="t cd" style="left:139.47px;top:542.99px;font-size:10.5px;line-height:10.5px;color:#262626;transform:scale(1.1500,1.0000);">27</div>
<div class="t cd" style="left:742.77px;top:542.89px;font-size:10.5px;line-height:10.5px;color:#262626;transform:scale(1.1500,1.0000);">27</div>
<div class="r" style="left:0;top:539.10px;width:1536px;height:16.75px;overflow:hidden"><div style="position:absolute;left:0;top:-539.10px">
<div class="t hw" style="left:168.50px;top:543.27px;font-size:13.6px;line-height:13.6px;color:#050505;font-weight:700;transform:scale(0.6741,1.0000);">F</div>
<div class="t dt" style="left:186.80px;top:545.61px;font-size:11.9px;line-height:11.9px;color:#050505;font-weight:700;font-style:italic;transform:scale(1.0397,1.0000);">3/1</div>
<div class="t hw" style="left:293.80px;top:544.25px;font-size:11.5px;line-height:11.5px;color:#050505;font-weight:700;transform:scale(0.7000,1.0000);">”</div>
<div class="t hw" style="left:714.15px;top:541.05px;font-size:14px;line-height:14px;color:#050505;font-weight:700;transform:scale(0.8800,1.0000);">12</div>
</div></div>
<div class="t cd" style="left:139.47px;top:559.32px;font-size:10.5px;line-height:10.5px;color:#262626;transform:scale(1.1500,1.0000);">28</div>
<div class="t cd" style="left:742.77px;top:559.22px;font-size:10.5px;line-height:10.5px;color:#262626;transform:scale(1.1500,1.0000);">28</div>
<div class="r" style="left:0;top:555.45px;width:1536px;height:16.75px;overflow:hidden"><div style="position:absolute;left:0;top:-555.45px">
<div class="t hw" style="left:168.15px;top:559.71px;font-size:13.6px;line-height:13.6px;color:#050505;font-weight:700;transform:scale(0.6945,1.0000);">S</div>
<div class="t dt" style="left:186.80px;top:562.05px;font-size:11.9px;line-height:11.9px;color:#050505;font-weight:700;font-style:italic;transform:scale(1.0397,1.0000);">3/2</div>
<div class="t hw" style="left:261.00px;top:558.66px;font-size:13.3px;line-height:13.3px;color:#050505;font-weight:700;transform:scale(0.8748,1.0000);">LM</div>
<div class="t hw" style="left:293.80px;top:559.96px;font-size:13.3px;line-height:13.3px;color:#050505;font-weight:700;transform:scale(0.8251,1.0000);">Yellowish creamy</div>
<div class="t hw" style="left:514.60px;top:559.96px;font-size:13.3px;line-height:13.3px;color:#050505;font-weight:700;transform:scale(0.7733,1.0000);">Feeling blue</div>
<div class="t hw" style="left:714.15px;top:557.41px;font-size:14px;line-height:14px;color:#050505;font-weight:700;transform:scale(0.8800,1.0000);">13</div>
</div></div>
<div class="t cd" style="left:139.47px;top:575.65px;font-size:10.5px;line-height:10.5px;color:#262626;transform:scale(1.1500,1.0000);">29</div>
<div class="t cd" style="left:742.77px;top:575.55px;font-size:10.5px;line-height:10.5px;color:#262626;transform:scale(1.1500,1.0000);">29</div>
<div class="r" style="left:0;top:571.80px;width:1536px;height:16.75px;overflow:hidden"><div style="position:absolute;left:0;top:-571.80px">
<div class="t hw" style="left:168.15px;top:576.15px;font-size:13.6px;line-height:13.6px;color:#050505;font-weight:700;transform:scale(0.6945,1.0000);">S</div>
<div class="t dt" style="left:186.80px;top:578.49px;font-size:11.9px;line-height:11.9px;color:#050505;font-weight:700;font-style:italic;transform:scale(1.0397,1.0000);">3/3</div>
<div class="t hw" style="left:293.80px;top:576.40px;font-size:13.3px;line-height:13.3px;color:#050505;font-weight:700;transform:scale(0.8492,1.0000);">Moon again!</div>
<div class="t hw" style="left:514.60px;top:576.40px;font-size:13.3px;line-height:13.3px;color:#050505;font-weight:700;transform:scale(0.9019,1.0000);">Irritable</div>
</div></div>
<div class="t cd" style="left:139.47px;top:591.98px;font-size:10.5px;line-height:10.5px;color:#262626;transform:scale(1.1500,1.0000);">30</div>
<div class="t cd" style="left:742.77px;top:591.88px;font-size:10.5px;line-height:10.5px;color:#262626;transform:scale(1.1500,1.0000);">30</div>
<div class="r" style="left:0;top:588.15px;width:1536px;height:16.75px;overflow:hidden"><div style="position:absolute;left:0;top:-588.15px">
<div class="t hw" style="left:166.10px;top:592.59px;font-size:13.6px;line-height:13.6px;color:#050505;font-weight:700;transform:scale(0.9180,1.0000);">M</div>
<div class="t dt" style="left:186.80px;top:594.93px;font-size:11.9px;line-height:11.9px;color:#050505;font-weight:700;font-style:italic;transform:scale(1.0397,1.0000);">3/4</div>
</div></div>
<div class="t cd" style="left:139.47px;top:608.31px;font-size:10.5px;line-height:10.5px;color:#262626;transform:scale(1.1500,1.0000);">31</div>
<div class="t cd" style="left:742.77px;top:608.21px;font-size:10.5px;line-height:10.5px;color:#262626;transform:scale(1.1500,1.0000);">31</div>
<div class="r" style="left:0;top:604.50px;width:1536px;height:16.75px;overflow:hidden"><div style="position:absolute;left:0;top:-604.50px">
<div class="t hw" style="left:167.90px;top:609.03px;font-size:13.6px;line-height:13.6px;color:#050505;font-weight:700;transform:scale(0.8185,1.0000);">T</div>
<div class="t dt" style="left:186.80px;top:611.37px;font-size:11.9px;line-height:11.9px;color:#050505;font-weight:700;font-style:italic;transform:scale(1.0397,1.0000);">3/5</div>
</div></div>
<div class="t cd" style="left:139.47px;top:624.64px;font-size:10.5px;line-height:10.5px;color:#262626;transform:scale(1.1500,1.0000);">32</div>
<div class="t cd" style="left:742.77px;top:624.54px;font-size:10.5px;line-height:10.5px;color:#262626;transform:scale(1.1500,1.0000);">32</div>
<div class="r" style="left:0;top:620.85px;width:1536px;height:16.75px;overflow:hidden"><div style="position:absolute;left:0;top:-620.85px">
<div class="t hw" style="left:166.00px;top:625.47px;font-size:13.6px;line-height:13.6px;color:#050505;font-weight:700;transform:scale(0.8258,1.0000);">W</div>
<div class="t dt" style="left:186.80px;top:627.81px;font-size:11.9px;line-height:11.9px;color:#050505;font-weight:700;font-style:italic;transform:scale(1.0397,1.0000);">3/6</div>
</div></div>
<div class="t cd" style="left:139.47px;top:640.97px;font-size:10.5px;line-height:10.5px;color:#262626;transform:scale(1.1500,1.0000);">33</div>
<div class="t cd" style="left:742.77px;top:640.87px;font-size:10.5px;line-height:10.5px;color:#262626;transform:scale(1.1500,1.0000);">33</div>
<div class="r" style="left:0;top:637.20px;width:1536px;height:16.75px;overflow:hidden"><div style="position:absolute;left:0;top:-637.20px">
<div class="t hw" style="left:164.60px;top:641.91px;font-size:13.6px;line-height:13.6px;color:#050505;font-weight:700;transform:scale(0.7391,1.0000);">TH</div>
<div class="t dt" style="left:186.80px;top:644.25px;font-size:11.9px;line-height:11.9px;color:#050505;font-weight:700;font-style:italic;transform:scale(1.0397,1.0000);">3/7</div>
</div></div>
<div class="t cd" style="left:139.47px;top:657.30px;font-size:10.5px;line-height:10.5px;color:#262626;transform:scale(1.1500,1.0000);">34</div>
<div class="t cd" style="left:742.77px;top:657.20px;font-size:10.5px;line-height:10.5px;color:#262626;transform:scale(1.1500,1.0000);">34</div>
<div class="r" style="left:0;top:653.55px;width:1536px;height:16.75px;overflow:hidden"><div style="position:absolute;left:0;top:-653.55px">
<div class="t hw" style="left:168.50px;top:658.35px;font-size:13.6px;line-height:13.6px;color:#050505;font-weight:700;transform:scale(0.6741,1.0000);">F</div>
<div class="t dt" style="left:186.80px;top:660.69px;font-size:11.9px;line-height:11.9px;color:#050505;font-weight:700;font-style:italic;transform:scale(1.0397,1.0000);">3/8</div>
</div></div>
<div class="t cd" style="left:139.47px;top:673.63px;font-size:10.5px;line-height:10.5px;color:#262626;transform:scale(1.1500,1.0000);">35</div>
<div class="t cd" style="left:742.77px;top:673.53px;font-size:10.5px;line-height:10.5px;color:#262626;transform:scale(1.1500,1.0000);">35</div>
<div class="r" style="left:0;top:669.90px;width:1536px;height:16.75px;overflow:hidden"><div style="position:absolute;left:0;top:-669.90px">
<div class="t hw" style="left:168.15px;top:674.79px;font-size:13.6px;line-height:13.6px;color:#050505;font-weight:700;transform:scale(0.6945,1.0000);">S</div>
<div class="t dt" style="left:186.80px;top:677.13px;font-size:11.9px;line-height:11.9px;color:#050505;font-weight:700;font-style:italic;transform:scale(1.0397,1.0000);">3/9</div>
</div></div>
<div class="t cd" style="left:139.47px;top:689.96px;font-size:10.5px;line-height:10.5px;color:#262626;transform:scale(1.1500,1.0000);">36</div>
<div class="t cd" style="left:742.77px;top:689.86px;font-size:10.5px;line-height:10.5px;color:#262626;transform:scale(1.1500,1.0000);">36</div>
<div class="r" style="left:0;top:686.25px;width:1536px;height:16.75px;overflow:hidden"><div style="position:absolute;left:0;top:-686.25px">
<div class="t hw" style="left:168.15px;top:691.23px;font-size:13.6px;line-height:13.6px;color:#050505;font-weight:700;transform:scale(0.6945,1.0000);">S</div>
<div class="t dt" style="left:183.70px;top:693.57px;font-size:11.9px;line-height:11.9px;color:#050505;font-weight:700;font-style:italic;transform:scale(0.9758,1.0000);">3/10</div>
</div></div>
<div class="t hw" style="left:1180.01px;top:264.37px;font-size:13.5px;line-height:13.5px;color:#050505;font-weight:700;font-style:italic;transform:scale(0.8500,1.0000);">8</div>
<div class="nr" style="top:120.30px"><i><b>7</b></i><i class="a">8</i><i class="a">9</i><i><b>97</b></i><i class="a">1</i><i class="a">2</i><i class="a">3</i><i class="a">4</i><i class="y">5</i><i>6</i><i class="a">7</i><i>8</i><i>9</i><i><b>98</b></i><i>1</i><i>2</i><i>3</i><i>4</i><i>5</i><i>6</i><i class="a">7</i><i>8</i><i>9</i></div>
<div class="nr" style="top:136.60px"><i><b>7</b></i><i class="a">8</i><i class="a">9</i><i><b>97</b></i><i class="a">1</i><i class="a">2</i><i class="a">3</i><i class="a">4</i><i class="y">5</i><i>6</i><i class="a">7</i><i>8</i><i>9</i><i><b>98</b></i><i>1</i><i>2</i><i>3</i><i>4</i><i>5</i><i>6</i><i class="a">7</i><i>8</i><i>9</i></div>
<div class="nr" style="top:152.90px"><i><b>7</b></i><i class="a">8</i><i class="a">9</i><i><b>97</b></i><i class="a">1</i><i class="a">2</i><i class="a">3</i><i class="a">4</i><i class="y">5</i><i>6</i><i class="a">7</i><i>8</i><i>9</i><i><b>98</b></i><i>1</i><i>2</i><i>3</i><i>4</i><i>5</i><i>6</i><i class="a">7</i><i>8</i><i>9</i></div>
<div class="nr" style="top:169.20px"><i><b>7</b></i><i class="a">8</i><i class="a">9</i><i><b>97</b></i><i class="a">1</i><i class="a">2</i><i class="a">3</i><i class="a">4</i><i class="y">5</i><i>6</i><i class="a">7</i><i>8</i><i>9</i><i><b>98</b></i><i>1</i><i>2</i><i>3</i><i>4</i><i>5</i><i>6</i><i class="a">7</i><i>8</i><i>9</i></div>
<div class="nr" style="top:185.50px"><i><b>7</b></i><i class="a">8</i><i class="a">9</i><i><b>97</b></i><i class="a">1</i><i class="a">2</i><i class="a">3</i><i class="a">4</i><i class="y">5</i><i>6</i><i class="a">7</i><i>8</i><i>9</i><i><b>98</b></i><i>1</i><i>2</i><i>3</i><i>4</i><i>5</i><i>6</i><i class="a">7</i><i>8</i><i>9</i></div>
<div class="nr" style="top:201.80px"><i><b>7</b></i><i class="a">8</i><i class="a">9</i><i><b>97</b></i><i class="a">1</i><i class="a">2</i><i class="a">3</i><i class="a">4</i><i class="y">5</i><i>6</i><i class="a">7</i><i>8</i><i>9</i><i><b>98</b></i><i>1</i><i>2</i><i>3</i><i>4</i><i>5</i><i>6</i><i class="a">7</i><i>8</i><i>9</i></div>
<div class="nr" style="top:218.10px"><i><b>7</b></i><i class="a">8</i><i class="a">9</i><i><b>97</b></i><i class="a">1</i><i class="a">2</i><i class="a">3</i><i class="a">4</i><i class="y">5</i><i>6</i><i class="a">7</i><i>8</i><i>9</i><i><b>98</b></i><i>1</i><i>2</i><i>3</i><i>4</i><i>5</i><i>6</i><i class="a">7</i><i>8</i><i>9</i></div>
<div class="nr" style="top:234.40px"><i><b>7</b></i><i class="a">8</i><i class="a">9</i><i><b>97</b></i><i class="a">1</i><i class="a">2</i><i class="a">3</i><i class="a">4</i><i class="y">5</i><i>6</i><i class="a">7</i><i>8</i><i>9</i><i><b>98</b></i><i>1</i><i>2</i><i>3</i><i>4</i><i>5</i><i>6</i><i class="a">7</i><i>8</i><i>9</i></div>
<div class="nr" style="top:250.70px"><i><b>7</b></i><i class="a">8</i><i class="a">9</i><i><b>97</b></i><i class="a">1</i><i class="a">2</i><i class="a">3</i><i class="a">4</i><i class="y">5</i><i>6</i><i class="a">7</i><i>8</i><i>9</i><i><b>98</b></i><i>1</i><i>2</i><i>3</i><i>4</i><i>5</i><i>6</i><i class="a">7</i><i>8</i><i>9</i></div>
<div class="nr" style="top:267.00px"><i><b>7</b></i><i class="a">8</i><i class="a">9</i><i><b>97</b></i><i class="a">1</i><i class="a">2</i><i class="a">3</i><i class="a">4</i><i class="y">5</i><i>6</i><i class="a">7</i><i>8</i><i>9</i><i><b>98</b></i><i>1</i><i>2</i><i>3</i><i>4</i><i>5</i><i>6</i><i class="a">7</i><i>8</i><i>9</i></div>
<div class="nr" style="top:283.30px"><i><b>7</b></i><i class="a">8</i><i class="a">9</i><i><b>97</b></i><i class="a">1</i><i class="a">2</i><i class="a">3</i><i class="a">4</i><i class="y">5</i><i>6</i><i class="a">7</i><i>8</i><i>9</i><i><b>98</b></i><i>1</i><i>2</i><i>3</i><i>4</i><i>5</i><i>6</i><i class="a">7</i><i>8</i><i>9</i></div>
<div class="nr" style="top:299.60px"><i><b>7</b></i><i class="a">8</i><i class="a">9</i><i><b>97</b></i><i class="a">1</i><i class="a">2</i><i class="a">3</i><i class="a">4</i><i class="y">5</i><i>6</i><i class="a">7</i><i>8</i><i>9</i><i><b>98</b></i><i>1</i><i>2</i><i>3</i><i>4</i><i>5</i><i>6</i><i class="a">7</i><i>8</i><i>9</i></div>
<div class="nr" style="top:315.90px"><i><b>7</b></i><i class="a">8</i><i class="a">9</i><i><b>97</b></i><i class="a">1</i><i class="a">2</i><i class="a">3</i><i class="a">4</i><i class="y">5</i><i>6</i><i class="a">7</i><i>8</i><i>9</i><i><b>98</b></i><i>1</i><i>2</i><i>3</i><i>4</i><i>5</i><i>6</i><i class="a">7</i><i>8</i><i>9</i></div>
<div class="nr" style="top:332.20px"><i><b>7</b></i><i class="a">8</i><i class="a">9</i><i><b>97</b></i><i class="a">1</i><i class="a">2</i><i class="a">3</i><i class="a">4</i><i class="y">5</i><i>6</i><i class="a">7</i><i>8</i><i>9</i><i><b>98</b></i><i>1</i><i>2</i><i>3</i><i>4</i><i>5</i><i>6</i><i class="a">7</i><i>8</i><i>9</i></div>
<div class="nr" style="top:348.50px"><i><b>7</b></i><i class="a">8</i><i class="a">9</i><i><b>97</b></i><i class="a">1</i><i class="a">2</i><i class="a">3</i><i class="a">4</i><i class="y">5</i><i>6</i><i class="a">7</i><i>8</i><i>9</i><i><b>98</b></i><i>1</i><i>2</i><i>3</i><i>4</i><i>5</i><i>6</i><i class="a">7</i><i>8</i><i>9</i></div>
<div class="nr" style="top:364.80px"><i><b>7</b></i><i class="a">8</i><i class="a">9</i><i><b>97</b></i><i class="a">1</i><i class="a">2</i><i class="a">3</i><i class="a">4</i><i class="y">5</i><i>6</i><i class="a">7</i><i>8</i><i>9</i><i><b>98</b></i><i>1</i><i>2</i><i>3</i><i>4</i><i>5</i><i>6</i><i class="a">7</i><i>8</i><i>9</i></div>
<div class="nr" style="top:381.10px"><i><b>7</b></i><i class="a">8</i><i class="a">9</i><i><b>97</b></i><i class="a">1</i><i class="a">2</i><i class="a">3</i><i class="a">4</i><i class="y">5</i><i>6</i><i class="a">7</i><i>8</i><i>9</i><i><b>98</b></i><i>1</i><i>2</i><i>3</i><i>4</i><i>5</i><i>6</i><i class="a">7</i><i>8</i><i>9</i></div>
<div class="nr" style="top:397.40px"><i><b>7</b></i><i class="a">8</i><i class="a">9</i><i><b>97</b></i><i class="a">1</i><i class="a">2</i><i class="a">3</i><i class="a">4</i><i class="y">5</i><i>6</i><i class="a">7</i><i>8</i><i>9</i><i><b>98</b></i><i>1</i><i>2</i><i>3</i><i>4</i><i>5</i><i>6</i><i class="a">7</i><i>8</i><i>9</i></div>
<div class="nr" style="top:413.70px"><i><b>7</b></i><i class="a">8</i><i class="a">9</i><i><b>97</b></i><i class="a">1</i><i class="a">2</i><i class="a">3</i><i class="a">4</i><i class="y">5</i><i>6</i><i class="a">7</i><i>8</i><i>9</i><i><b>98</b></i><i>1</i><i>2</i><i>3</i><i>4</i><i>5</i><i>6</i><i class="a">7</i><i>8</i><i>9</i></div>
<div class="nr" style="top:430.00px"><i><b>7</b></i><i class="a">8</i><i class="a">9</i><i><b>97</b></i><i class="a">1</i><i class="a">2</i><i class="a">3</i><i class="a">4</i><i class="y">5</i><i>6</i><i class="a">7</i><i>8</i><i>9</i><i><b>98</b></i><i>1</i><i>2</i><i>3</i><i>4</i><i>5</i><i>6</i><i class="a">7</i><i>8</i><i>9</i></div>
<div class="nr" style="top:446.35px"><i><b>7</b></i><i class="a">8</i><i class="a">9</i><i><b>97</b></i><i class="a">1</i><i class="a">2</i><i class="a">3</i><i class="a">4</i><i class="y">5</i><i>6</i><i class="a">7</i><i>8</i><i>9</i><i><b>98</b></i><i>1</i><i>2</i><i>3</i><i>4</i><i>5</i><i>6</i><i class="a">7</i><i>8</i><i>9</i></div>
<div class="nr" style="top:462.70px"><i><b>7</b></i><i class="a">8</i><i class="a">9</i><i><b>97</b></i><i class="a">1</i><i class="a">2</i><i class="a">3</i><i class="a">4</i><i class="y">5</i><i>6</i><i class="a">7</i><i>8</i><i>9</i><i><b>98</b></i><i>1</i><i>2</i><i>3</i><i>4</i><i>5</i><i>6</i><i class="a">7</i><i>8</i><i>9</i></div>
<div class="nr" style="top:479.05px"><i><b>7</b></i><i class="a">8</i><i class="a">9</i><i><b>97</b></i><i class="a">1</i><i class="a">2</i><i class="a">3</i><i class="a">4</i><i class="y">5</i><i>6</i><i class="a">7</i><i>8</i><i>9</i><i><b>98</b></i><i>1</i><i>2</i><i>3</i><i>4</i><i>5</i><i>6</i><i class="a">7</i><i>8</i><i>9</i></div>
<div class="nr" style="top:495.40px"><i><b>7</b></i><i class="a">8</i><i class="a">9</i><i><b>97</b></i><i class="a">1</i><i class="a">2</i><i class="a">3</i><i class="a">4</i><i class="y">5</i><i>6</i><i class="a">7</i><i>8</i><i>9</i><i><b>98</b></i><i>1</i><i>2</i><i>3</i><i>4</i><i>5</i><i>6</i><i class="a">7</i><i>8</i><i>9</i></div>
<div class="nr" style="top:511.75px"><i><b>7</b></i><i class="a">8</i><i class="a">9</i><i><b>97</b></i><i class="a">1</i><i class="a">2</i><i class="a">3</i><i class="a">4</i><i class="y">5</i><i>6</i><i class="a">7</i><i>8</i><i>9</i><i><b>98</b></i><i>1</i><i>2</i><i>3</i><i>4</i><i>5</i><i>6</i><i class="a">7</i><i>8</i><i>9</i></div>
<div class="nr" style="top:528.10px"><i><b>7</b></i><i class="a">8</i><i class="a">9</i><i><b>97</b></i><i class="a">1</i><i class="a">2</i><i class="a">3</i><i class="a">4</i><i class="y">5</i><i>6</i><i class="a">7</i><i>8</i><i>9</i><i><b>98</b></i><i>1</i><i>2</i><i>3</i><i>4</i><i>5</i><i>6</i><i class="a">7</i><i>8</i><i>9</i></div>
<div class="nr" style="top:544.45px"><i><b>7</b></i><i class="a">8</i><i class="a">9</i><i><b>97</b></i><i class="a">1</i><i class="a">2</i><i class="a">3</i><i class="a">4</i><i class="y">5</i><i>6</i><i class="a">7</i><i>8</i><i>9</i><i><b>98</b></i><i>1</i><i>2</i><i>3</i><i>4</i><i>5</i><i>6</i><i class="a">7</i><i>8</i><i>9</i></div>
<div class="nr" style="top:560.80px"><i><b>7</b></i><i class="a">8</i><i class="a">9</i><i><b>97</b></i><i class="a">1</i><i class="a">2</i><i class="a">3</i><i class="a">4</i><i class="y">5</i><i>6</i><i class="a">7</i><i>8</i><i>9</i><i><b>98</b></i><i>1</i><i>2</i><i>3</i><i>4</i><i>5</i><i>6</i><i class="a">7</i><i>8</i><i>9</i></div>
<div class="nr" style="top:577.15px"><i><b>7</b></i><i class="a">8</i><i class="a">9</i><i><b>97</b></i><i class="a">1</i><i class="a">2</i><i class="a">3</i><i class="a">4</i><i class="y">5</i><i>6</i><i class="a">7</i><i>8</i><i>9</i><i><b>98</b></i><i>1</i><i>2</i><i>3</i><i>4</i><i>5</i><i>6</i><i class="a">7</i><i>8</i><i>9</i></div>
<div class="nr" style="top:593.50px"><i><b>7</b></i><i class="a">8</i><i class="a">9</i><i><b>97</b></i><i class="a">1</i><i class="a">2</i><i class="a">3</i><i class="a">4</i><i class="y">5</i><i>6</i><i class="a">7</i><i>8</i><i>9</i><i><b>98</b></i><i>1</i><i>2</i><i>3</i><i>4</i><i>5</i><i>6</i><i class="a">7</i><i>8</i><i>9</i></div>
<div class="nr" style="top:609.85px"><i><b>7</b></i><i class="a">8</i><i class="a">9</i><i><b>97</b></i><i class="a">1</i><i class="a">2</i><i class="a">3</i><i class="a">4</i><i class="y">5</i><i>6</i><i class="a">7</i><i>8</i><i>9</i><i><b>98</b></i><i>1</i><i>2</i><i>3</i><i>4</i><i>5</i><i>6</i><i class="a">7</i><i>8</i><i>9</i></div>
<div class="nr" style="top:626.20px"><i><b>7</b></i><i class="a">8</i><i class="a">9</i><i><b>97</b></i><i class="a">1</i><i class="a">2</i><i class="a">3</i><i class="a">4</i><i class="y">5</i><i>6</i><i class="a">7</i><i>8</i><i>9</i><i><b>98</b></i><i>1</i><i>2</i><i>3</i><i>4</i><i>5</i><i>6</i><i class="a">7</i><i>8</i><i>9</i></div>
<div class="nr" style="top:642.55px"><i><b>7</b></i><i class="a">8</i><i class="a">9</i><i><b>97</b></i><i class="a">1</i><i class="a">2</i><i class="a">3</i><i class="a">4</i><i class="y">5</i><i>6</i><i class="a">7</i><i>8</i><i>9</i><i><b>98</b></i><i>1</i><i>2</i><i>3</i><i>4</i><i>5</i><i>6</i><i class="a">7</i><i>8</i><i>9</i></div>
<div class="nr" style="top:658.90px"><i><b>7</b></i><i class="a">8</i><i class="a">9</i><i><b>97</b></i><i class="a">1</i><i class="a">2</i><i class="a">3</i><i class="a">4</i><i class="y">5</i><i>6</i><i class="a">7</i><i>8</i><i>9</i><i><b>98</b></i><i>1</i><i>2</i><i>3</i><i>4</i><i>5</i><i>6</i><i class="a">7</i><i>8</i><i>9</i></div>
<div class="nr" style="top:675.25px"><i><b>7</b></i><i class="a">8</i><i class="a">9</i><i><b>97</b></i><i class="a">1</i><i class="a">2</i><i class="a">3</i><i class="a">4</i><i class="y">5</i><i>6</i><i class="a">7</i><i>8</i><i>9</i><i><b>98</b></i><i>1</i><i>2</i><i>3</i><i>4</i><i>5</i><i>6</i><i class="a">7</i><i>8</i><i>9</i></div>
<div class="nr" style="top:691.60px"><i><b>7</b></i><i class="a">8</i><i class="a">9</i><i><b>97</b></i><i class="a">1</i><i class="a">2</i><i class="a">3</i><i class="a">4</i><i class="y">5</i><i>6</i><i class="a">7</i><i>8</i><i>9</i><i><b>98</b></i><i>1</i><i>2</i><i>3</i><i>4</i><i>5</i><i>6</i><i class="a">7</i><i>8</i><i>9</i></div>
<div class="t" style="left:221.50px;top:727.58px;font-size:14.2px;line-height:14.2px;color:#1a1a1a;font-weight:700;transform:scale(0.9042,1.0000);">Sekretions-Code:</div>
<div class="t" style="left:252.10px;top:758.64px;font-size:12.0px;line-height:12.0px;color:#1a1a1a;font-weight:700;transform:scale(0.9990,1.0000);">: Menstruation, stark</div>
<div class="t" style="left:252.10px;top:778.54px;font-size:12.0px;line-height:12.0px;color:#1a1a1a;font-weight:700;transform:scale(1.0088,1.0000);">: Menstruation, mittel</div>
<div class="t" style="left:252.10px;top:799.04px;font-size:12.0px;line-height:12.0px;color:#1a1a1a;font-weight:700;">: Menstruation, leicht</div>
<div class="t" style="left:252.10px;top:819.24px;font-size:12.0px;line-height:12.0px;color:#1a1a1a;font-weight:700;transform:scale(0.9679,1.0000);">: Schmierblutung</div>
<div class="t" style="left:389.67px;top:756.35px;font-size:14px;line-height:14px;color:#1a1a1a;font-weight:700;">f</div>
<div class="t" style="left:387.68px;top:777.77px;font-size:13.5px;line-height:13.5px;color:#1a1a1a;font-weight:700;">F</div>
<div class="t" style="left:381.95px;top:797.97px;font-size:13.5px;line-height:13.5px;color:#1a1a1a;font-weight:700;transform:scale(1.0107,1.0000);">LM</div>
<div class="t" style="left:386.88px;top:815.97px;font-size:13.5px;line-height:13.5px;color:#1a1a1a;font-weight:700;">?</div>
<div class="t" style="left:407.90px;top:739.74px;font-size:12.0px;line-height:12.0px;color:#1a1a1a;font-weight:700;transform:scale(0.9300,1.0000);">: Basis, Baseline</div>
<div class="t" style="left:407.90px;top:759.54px;font-size:12.0px;line-height:12.0px;color:#1a1a1a;font-weight:700;transform:scale(0.9850,1.0000);">: fruchtbar</div>
<div class="t" style="left:407.90px;top:780.14px;font-size:12.0px;line-height:12.0px;color:#1a1a1a;font-weight:700;transform:scale(0.9698,1.0000);">: sehr fruchtbar</div>
<div class="t" style="left:407.90px;top:799.94px;font-size:12.0px;line-height:12.0px;color:#1a1a1a;font-weight:700;transform:scale(1.0114,1.0000);">: Lutealsekret /Mukus</div>
<div class="t" style="left:407.90px;top:820.14px;font-size:12.0px;line-height:12.0px;color:#1a1a1a;font-weight:700;transform:scale(0.9543,1.0000);">: Unsicher</div>
<div class="t" style="left:660.60px;top:719.68px;font-size:14.2px;line-height:14.2px;color:#1a1a1a;font-weight:700;transform:scale(0.8962,1.0000);">Fruchtbares Fenster Code</div>
<div class="t" style="left:693.93px;top:778.17px;font-size:13.5px;line-height:13.5px;color:#1a1a1a;font-weight:700;">H</div>
<div class="t" style="left:664.40px;top:797.40px;font-size:13px;line-height:13px;color:#1a1a1a;font-weight:700;transform:scale(1.1143,1.0000);">1,2,3,4</div>
<div class="r" style="left:0;top:0;width:842.5px;height:864px;overflow:hidden">
<div class="t" style="left:716.00px;top:741.74px;font-size:12px;line-height:12px;color:#1a1a1a;font-weight:700;transform:scale(0.9292,1.0000);">: Punkt der Veränderung</div>
</div>
<div class="t" style="left:716.00px;top:760.74px;font-size:12px;line-height:12px;color:#1a1a1a;font-weight:700;transform:scale(0.8941,1.0000);">: Fruchtbares Fenster</div>
<div class="t" style="left:716.00px;top:779.74px;font-size:12px;line-height:12px;color:#1a1a1a;font-weight:700;transform:scale(0.9230,1.0000);">: Höhepunkt</div>
<div class="t" style="left:716.00px;top:798.54px;font-size:12px;line-height:12px;color:#1a1a1a;font-weight:700;transform:scale(0.8823,1.0000);">: Zählung nach dem</div>
<div class="t" style="left:716.60px;top:818.24px;font-size:12px;line-height:12px;color:#1a1a1a;font-weight:700;transform:scale(0.9224,1.0000);">Höhepunkt</div>
<div class="t" style="left:867.50px;top:719.68px;font-size:14.2px;line-height:14.2px;color:#1a1a1a;font-weight:700;transform:scale(0.8956,1.0000);">Spermien-Exposition</div>
<div class="t" style="left:875.13px;top:780.97px;font-size:13.5px;line-height:13.5px;color:#1a1a1a;font-weight:700;">K</div>
<div class="t" style="left:898.40px;top:740.04px;font-size:12.0px;line-height:12.0px;color:#1a1a1a;font-weight:700;transform:scale(0.9751,1.0000);">keine Exposition, geschützt</div>
<div class="t" style="left:898.40px;top:761.34px;font-size:12.0px;line-height:12.0px;color:#1a1a1a;font-weight:700;transform:scale(0.9707,1.0000);">Exposition, ungeschützt</div>
<div class="t" style="left:898.40px;top:782.94px;font-size:12.0px;line-height:12.0px;color:#1a1a1a;font-weight:700;transform:scale(0.9732,1.0000);">Kondon</div>
<div class="t" style="left:10.70px;top:834.16px;font-size:18px;line-height:18px;color:#f6f6f1;transform:scale(1.0849,1.0000);">© Laura Krüger</div>
<svg width="1536" height="864" viewBox="0 0 1536 864"><line x1="886.41" y1="128.65" x2="880.69" y2="133.85" stroke="#1f77b4" stroke-width="1.5"/>
<line x1="874.70" y1="147.40" x2="874.70" y2="149.10" stroke="#1f77b4" stroke-width="1.5"/>
<line x1="867.23" y1="160.34" x2="846.27" y2="169.16" stroke="#1f77b4" stroke-width="1.5"/>
<line x1="846.55" y1="174.67" x2="884.95" y2="186.43" stroke="#1f77b4" stroke-width="1.5"/>
<line x1="885.33" y1="192.15" x2="864.47" y2="201.65" stroke="#1f77b4" stroke-width="1.5"/>
<line x1="857.10" y1="213.10" x2="857.10" y2="213.70" stroke="#1f77b4" stroke-width="1.5"/>
<line x1="863.01" y1="227.34" x2="869.09" y2="233.06" stroke="#1f77b4" stroke-width="1.5"/>
<line x1="868.93" y1="243.96" x2="863.17" y2="249.04" stroke="#1f77b4" stroke-width="1.5"/>
<line x1="860.79" y1="261.61" x2="870.31" y2="280.19" stroke="#1f77b4" stroke-width="1.5"/>
<line x1="874.00" y1="295.50" x2="874.00" y2="295.40" stroke="#1f77b4" stroke-width="1.5"/>
<line x1="868.08" y1="309.03" x2="863.02" y2="313.77" stroke="#1f77b4" stroke-width="1.5"/>
<line x1="849.35" y1="321.67" x2="812.15" y2="333.03" stroke="#1f77b4" stroke-width="1.5"/>
<line x1="812.33" y1="337.04" x2="885.77" y2="352.26" stroke="#1f77b4" stroke-width="1.5"/>
<line x1="901.59" y1="355.72" x2="955.11" y2="368.08" stroke="#1f77b4" stroke-width="1.5"/>
<line x1="970.47" y1="373.03" x2="991.03" y2="381.67" stroke="#1f77b4" stroke-width="1.5"/>
<line x1="1004.44" y1="390.31" x2="1010.46" y2="395.89" stroke="#1f77b4" stroke-width="1.5"/>
<line x1="1010.49" y1="406.94" x2="1004.41" y2="412.66" stroke="#1f77b4" stroke-width="1.5"/>
<line x1="992.19" y1="423.28" x2="986.91" y2="427.52" stroke="#1f77b4" stroke-width="1.5"/>
<line x1="988.31" y1="435.09" x2="1026.19" y2="447.31" stroke="#1f77b4" stroke-width="1.5"/>
<line x1="1033.90" y1="457.90" x2="1033.90" y2="459.20" stroke="#1f77b4" stroke-width="1.5"/>
<line x1="1025.99" y1="469.06" x2="970.91" y2="481.34" stroke="#1f77b4" stroke-width="1.5"/>
<line x1="970.74" y1="485.50" x2="1008.36" y2="497.20" stroke="#1f77b4" stroke-width="1.5"/>
<line x1="1022.06" y1="505.09" x2="1027.94" y2="510.51" stroke="#1f77b4" stroke-width="1.5"/>
<line x1="1026.10" y1="518.17" x2="988.40" y2="528.63" stroke="#1f77b4" stroke-width="1.5"/>
<line x1="980.60" y1="538.90" x2="980.60" y2="539.90" stroke="#1f77b4" stroke-width="1.5"/>
<line x1="973.33" y1="551.58" x2="952.97" y2="561.62" stroke="#1f77b4" stroke-width="1.5"/>
<circle cx="892.40" cy="123.20" r="7.8" fill="rgba(31,119,180,0.55)" stroke="#1f77b4" stroke-width="1.5"/>
<circle cx="874.70" cy="139.30" r="7.8" fill="rgba(31,119,180,0.55)" stroke="#1f77b4" stroke-width="1.5"/>
<circle cx="874.70" cy="157.20" r="7.8" fill="rgba(31,119,180,0.55)" stroke="#1f77b4" stroke-width="1.5"/>
<circle cx="838.80" cy="172.30" r="7.8" fill="rgba(31,119,180,0.55)" stroke="#1f77b4" stroke-width="1.5"/>
<circle cx="892.70" cy="188.80" r="7.8" fill="rgba(31,119,180,0.55)" stroke="#1f77b4" stroke-width="1.5"/>
<circle cx="857.10" cy="205.00" r="7.8" fill="rgba(31,119,180,0.55)" stroke="#1f77b4" stroke-width="1.5"/>
<circle cx="857.10" cy="221.80" r="7.8" fill="rgba(31,119,180,0.55)" stroke="#1f77b4" stroke-width="1.5"/>
<circle cx="875.00" cy="238.60" r="7.8" fill="rgba(31,119,180,0.55)" stroke="#1f77b4" stroke-width="1.5"/>
<circle cx="857.10" cy="254.40" r="7.8" fill="rgba(31,119,180,0.55)" stroke="#1f77b4" stroke-width="1.5"/>
<circle cx="927.40" cy="269.80" r="7.8" fill="rgba(31,119,180,0.55)" stroke="#1f77b4" stroke-width="1.5"/>
<circle cx="874.00" cy="287.40" r="7.8" fill="rgba(31,119,180,0.55)" stroke="#1f77b4" stroke-width="1.5"/>
<circle cx="874.00" cy="303.50" r="7.8" fill="rgba(31,119,180,0.55)" stroke="#1f77b4" stroke-width="1.5"/>
<circle cx="857.10" cy="319.30" r="7.8" fill="rgba(31,119,180,0.55)" stroke="#1f77b4" stroke-width="1.5"/>
<circle cx="804.40" cy="335.40" r="7.8" fill="rgba(31,119,180,0.55)" stroke="#1f77b4" stroke-width="1.5"/>
<circle cx="893.70" cy="353.90" r="7.8" fill="rgba(31,119,180,0.55)" stroke="#1f77b4" stroke-width="1.5"/>
<circle cx="963.00" cy="369.90" r="7.8" fill="rgba(31,119,180,0.55)" stroke="#1f77b4" stroke-width="1.5"/>
<circle cx="998.50" cy="384.80" r="7.8" fill="rgba(31,119,180,0.55)" stroke="#1f77b4" stroke-width="1.5"/>
<circle cx="1016.40" cy="401.40" r="7.8" fill="rgba(31,119,180,0.55)" stroke="#1f77b4" stroke-width="1.5"/>
<circle cx="998.50" cy="418.20" r="7.8" fill="rgba(31,119,180,0.55)" stroke="#1f77b4" stroke-width="1.5"/>
<circle cx="980.60" cy="432.60" r="7.8" fill="rgba(31,119,180,0.55)" stroke="#1f77b4" stroke-width="1.5"/>
<circle cx="1033.90" cy="449.80" r="7.8" fill="rgba(31,119,180,0.55)" stroke="#1f77b4" stroke-width="1.5"/>
<circle cx="1033.90" cy="467.30" r="7.8" fill="rgba(31,119,180,0.55)" stroke="#1f77b4" stroke-width="1.5"/>
<circle cx="963.00" cy="483.10" r="7.8" fill="rgba(31,119,180,0.55)" stroke="#1f77b4" stroke-width="1.5"/>
<circle cx="1016.10" cy="499.60" r="7.8" fill="rgba(31,119,180,0.55)" stroke="#1f77b4" stroke-width="1.5"/>
<circle cx="1033.90" cy="516.00" r="7.8" fill="rgba(31,119,180,0.55)" stroke="#1f77b4" stroke-width="1.5"/>
<circle cx="980.60" cy="530.80" r="7.8" fill="rgba(31,119,180,0.55)" stroke="#1f77b4" stroke-width="1.5"/>
<circle cx="980.60" cy="548.00" r="7.8" fill="rgba(31,119,180,0.55)" stroke="#1f77b4" stroke-width="1.5"/>
<circle cx="945.70" cy="565.20" r="7.8" fill="rgba(31,119,180,0.55)" stroke="#1f77b4" stroke-width="1.5"/>
<rect x="106.50" y="260.55" width="1091.00" height="163.80" fill="rgb(220,230,244)" style="mix-blend-mode:multiply"/>
<rect x="106.50" y="260.55" width="1091.00" height="163.80" fill="rgba(80,124,205,0.12)" />
<rect x="107.00" y="356.30" width="1088.50" height="3.30" fill="rgba(196,170,60,0.85)" /></svg>
</div></body></html>
